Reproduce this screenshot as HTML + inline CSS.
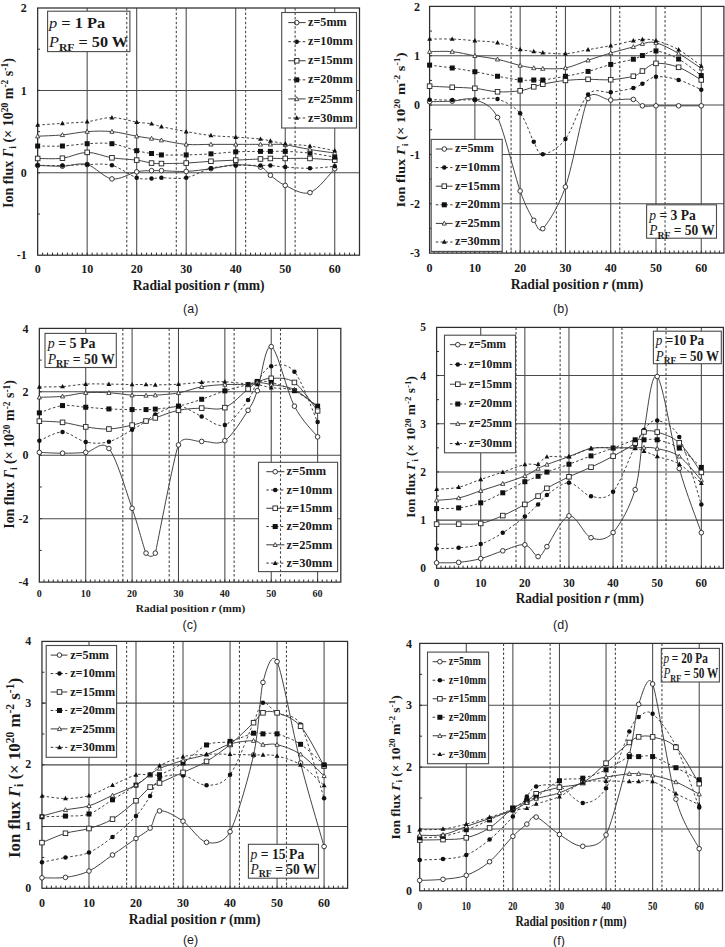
<!DOCTYPE html>
<html><head><meta charset="utf-8"><title>Ion flux figure</title>
<style>html,body{margin:0;padding:0;background:#fff;}svg{display:block;}</style></head><body>
<svg width="725" height="947" viewBox="0 0 725 947" fill="#1a1a1a">
<rect width="725" height="947" fill="#fff"/>
<g>
<path d="M87.17 8V255.2M136.69 8V255.2M186.2 8V255.2M235.72 8V255.2M285.23 8V255.2M334.74 8V255.2M37.66 90.4H359.5M37.66 172.8H359.5" stroke="#4a4a4a" stroke-width="1.05" fill="none"/>
<path d="M42.61 255.2v-2.6M47.56 255.2v-2.6M52.51 255.2v-2.6M57.47 255.2v-2.6M62.42 255.2v-2.6M67.37 255.2v-2.6M72.32 255.2v-2.6M77.27 255.2v-2.6M82.22 255.2v-2.6M87.17 255.2v-2.6M92.13 255.2v-2.6M97.08 255.2v-2.6M102.03 255.2v-2.6M106.98 255.2v-2.6M111.93 255.2v-2.6M116.88 255.2v-2.6M121.83 255.2v-2.6M126.78 255.2v-2.6M131.74 255.2v-2.6M136.69 255.2v-2.6M141.64 255.2v-2.6M146.59 255.2v-2.6M151.54 255.2v-2.6M156.49 255.2v-2.6M161.44 255.2v-2.6M166.4 255.2v-2.6M171.35 255.2v-2.6M176.3 255.2v-2.6M181.25 255.2v-2.6M186.2 255.2v-2.6M191.15 255.2v-2.6M196.1 255.2v-2.6M201.06 255.2v-2.6M206.01 255.2v-2.6M210.96 255.2v-2.6M215.91 255.2v-2.6M220.86 255.2v-2.6M225.81 255.2v-2.6M230.76 255.2v-2.6M235.72 255.2v-2.6M240.67 255.2v-2.6M245.62 255.2v-2.6M250.57 255.2v-2.6M255.52 255.2v-2.6M260.47 255.2v-2.6M265.42 255.2v-2.6M270.38 255.2v-2.6M275.33 255.2v-2.6M280.28 255.2v-2.6M285.23 255.2v-2.6M290.18 255.2v-2.6M295.13 255.2v-2.6M300.08 255.2v-2.6M305.03 255.2v-2.6M309.99 255.2v-2.6M314.94 255.2v-2.6M319.89 255.2v-2.6M324.84 255.2v-2.6M329.79 255.2v-2.6M334.74 255.2v-2.6M339.69 255.2v-2.6M344.65 255.2v-2.6M349.6 255.2v-2.6M354.55 255.2v-2.6M37.66 214h2.4M37.66 172.8h2.4M37.66 131.6h2.4M37.66 90.4h2.4M37.66 49.2h2.4" stroke="#2e2e2e" stroke-width="1" fill="none"/>
<rect x="37.66" y="8" width="321.84" height="247.2" fill="none" stroke="#2e2e2e" stroke-width="1.25"/>
<path d="M37.66 165.38C41.79 165.52 54.16 166.35 62.42 166.21C70.67 166.07 78.92 162.45 87.17 164.56C95.43 166.67 103.68 177.69 111.93 178.9C120.18 180.11 130.09 173.18 136.69 171.81C143.29 170.44 147.42 170.85 151.54 170.66C155.67 170.47 156.49 170.55 161.44 170.66C166.39 170.76 177.95 171.73 186.2 171.4C194.45 171.07 202.71 169.78 210.96 168.68C219.21 167.58 227.46 165.07 235.72 164.81C243.97 164.55 254.7 165.37 260.47 167.11C266.25 168.86 266.25 172.22 270.38 175.27C274.5 178.32 278.63 182.52 285.23 185.41C291.83 188.29 301.73 195.35 309.99 192.58C318.24 189.8 330.62 172.73 334.74 168.76" stroke="#3a3a3a" stroke-width="0.95" fill="none"/>
<circle cx="37.66" cy="165.38" r="2.3" fill="#fff" stroke="#222" stroke-width="0.9"/>
<circle cx="62.42" cy="166.21" r="2.3" fill="#fff" stroke="#222" stroke-width="0.9"/>
<circle cx="87.17" cy="164.56" r="2.3" fill="#fff" stroke="#222" stroke-width="0.9"/>
<circle cx="111.93" cy="178.9" r="2.3" fill="#fff" stroke="#222" stroke-width="0.9"/>
<circle cx="136.69" cy="171.81" r="2.3" fill="#fff" stroke="#222" stroke-width="0.9"/>
<circle cx="151.54" cy="170.66" r="2.3" fill="#fff" stroke="#222" stroke-width="0.9"/>
<circle cx="161.44" cy="170.66" r="2.3" fill="#fff" stroke="#222" stroke-width="0.9"/>
<circle cx="186.2" cy="171.4" r="2.3" fill="#fff" stroke="#222" stroke-width="0.9"/>
<circle cx="210.96" cy="168.68" r="2.3" fill="#fff" stroke="#222" stroke-width="0.9"/>
<circle cx="235.72" cy="164.81" r="2.3" fill="#fff" stroke="#222" stroke-width="0.9"/>
<circle cx="260.47" cy="167.11" r="2.3" fill="#fff" stroke="#222" stroke-width="0.9"/>
<circle cx="270.38" cy="175.27" r="2.3" fill="#fff" stroke="#222" stroke-width="0.9"/>
<circle cx="285.23" cy="185.41" r="2.3" fill="#fff" stroke="#222" stroke-width="0.9"/>
<circle cx="309.99" cy="192.58" r="2.3" fill="#fff" stroke="#222" stroke-width="0.9"/>
<circle cx="334.74" cy="168.76" r="2.3" fill="#fff" stroke="#222" stroke-width="0.9"/>
<path d="M37.66 165.3C41.79 165.34 54.16 165.67 62.42 165.55C70.67 165.43 78.92 164.6 87.17 164.56C95.43 164.52 103.68 163.1 111.93 165.3C120.18 167.5 130.09 175.53 136.69 177.74C143.29 179.96 147.42 178.57 151.54 178.57C155.67 178.57 156.48 177.86 161.44 177.74C166.41 177.63 177.95 179.32 186.2 177.74C194.45 176.16 202.71 170.31 210.96 168.27C219.21 166.22 227.46 165.93 235.72 165.47C243.97 165 255.52 165.47 260.47 165.47C265.42 165.47 266.25 165.19 270.38 165.47C274.5 165.74 278.63 166.65 285.23 167.11C291.83 167.58 301.73 168.39 309.99 168.27C318.24 168.14 330.62 166.69 334.74 166.37" stroke="#3a3a3a" stroke-width="0.95" fill="none" stroke-dasharray="2.6 2.2"/>
<circle cx="37.66" cy="165.3" r="2.25" fill="#111"/>
<circle cx="62.42" cy="165.55" r="2.25" fill="#111"/>
<circle cx="87.17" cy="164.56" r="2.25" fill="#111"/>
<circle cx="111.93" cy="165.3" r="2.25" fill="#111"/>
<circle cx="136.69" cy="177.74" r="2.25" fill="#111"/>
<circle cx="151.54" cy="178.57" r="2.25" fill="#111"/>
<circle cx="161.44" cy="177.74" r="2.25" fill="#111"/>
<circle cx="186.2" cy="177.74" r="2.25" fill="#111"/>
<circle cx="210.96" cy="168.27" r="2.25" fill="#111"/>
<circle cx="235.72" cy="165.47" r="2.25" fill="#111"/>
<circle cx="260.47" cy="165.47" r="2.25" fill="#111"/>
<circle cx="270.38" cy="165.47" r="2.25" fill="#111"/>
<circle cx="285.23" cy="167.11" r="2.25" fill="#111"/>
<circle cx="309.99" cy="168.27" r="2.25" fill="#111"/>
<circle cx="334.74" cy="166.37" r="2.25" fill="#111"/>
<path d="M37.66 158.46C41.79 158.42 54.16 159.23 62.42 158.22C70.67 157.2 78.92 152.43 87.17 152.36C95.43 152.3 103.68 156.51 111.93 157.8C120.18 159.09 130.09 159.23 136.69 160.11C143.29 160.99 147.42 162.5 151.54 163.08C155.67 163.65 156.49 163.57 161.44 163.57C166.4 163.57 177.95 163.46 186.2 163.08C194.45 162.69 202.71 161.76 210.96 161.26C219.21 160.77 227.46 160.49 235.72 160.11C243.97 159.73 255.52 159.19 260.47 158.96C265.42 158.72 266.25 158.54 270.38 158.46C274.5 158.38 278.63 158.46 285.23 158.46C291.83 158.46 301.73 158.19 309.99 158.46C318.24 158.74 330.62 159.84 334.74 160.11" stroke="#3a3a3a" stroke-width="0.95" fill="none"/>
<rect x="35.36" y="156.16" width="4.6" height="4.6" fill="#fff" stroke="#222" stroke-width="0.9"/>
<rect x="60.12" y="155.92" width="4.6" height="4.6" fill="#fff" stroke="#222" stroke-width="0.9"/>
<rect x="84.87" y="150.06" width="4.6" height="4.6" fill="#fff" stroke="#222" stroke-width="0.9"/>
<rect x="109.63" y="155.5" width="4.6" height="4.6" fill="#fff" stroke="#222" stroke-width="0.9"/>
<rect x="134.39" y="157.81" width="4.6" height="4.6" fill="#fff" stroke="#222" stroke-width="0.9"/>
<rect x="149.24" y="160.78" width="4.6" height="4.6" fill="#fff" stroke="#222" stroke-width="0.9"/>
<rect x="159.14" y="161.27" width="4.6" height="4.6" fill="#fff" stroke="#222" stroke-width="0.9"/>
<rect x="183.9" y="160.78" width="4.6" height="4.6" fill="#fff" stroke="#222" stroke-width="0.9"/>
<rect x="208.66" y="158.96" width="4.6" height="4.6" fill="#fff" stroke="#222" stroke-width="0.9"/>
<rect x="233.42" y="157.81" width="4.6" height="4.6" fill="#fff" stroke="#222" stroke-width="0.9"/>
<rect x="258.17" y="156.66" width="4.6" height="4.6" fill="#fff" stroke="#222" stroke-width="0.9"/>
<rect x="268.08" y="156.16" width="4.6" height="4.6" fill="#fff" stroke="#222" stroke-width="0.9"/>
<rect x="282.93" y="156.16" width="4.6" height="4.6" fill="#fff" stroke="#222" stroke-width="0.9"/>
<rect x="307.69" y="156.16" width="4.6" height="4.6" fill="#fff" stroke="#222" stroke-width="0.9"/>
<rect x="332.44" y="157.81" width="4.6" height="4.6" fill="#fff" stroke="#222" stroke-width="0.9"/>
<path d="M37.66 146.02C41.79 146.02 54.16 146.4 62.42 146.02C70.67 145.64 78.92 144.1 87.17 143.71C95.43 143.33 103.68 142.55 111.93 143.71C120.18 144.88 130.09 149.08 136.69 150.72C143.29 152.35 147.42 152.82 151.54 153.52C155.67 154.22 156.45 154.72 161.44 154.92C166.44 155.12 177.95 155.1 186.2 154.92C194.45 154.74 202.71 154.36 210.96 153.85C219.21 153.34 227.46 152.28 235.72 151.87C243.97 151.46 255.52 151.45 260.47 151.38C265.42 151.31 266.25 151.38 270.38 151.38C274.5 151.38 278.63 151.09 285.23 151.38C291.83 151.66 301.73 152.15 309.99 153.11C318.24 154.07 330.62 156.47 334.74 157.14" stroke="#3a3a3a" stroke-width="0.95" fill="none" stroke-dasharray="2.6 2.2"/>
<rect x="35.16" y="143.52" width="5" height="5" fill="#111"/>
<rect x="59.92" y="143.52" width="5" height="5" fill="#111"/>
<rect x="84.67" y="141.21" width="5" height="5" fill="#111"/>
<rect x="109.43" y="141.21" width="5" height="5" fill="#111"/>
<rect x="134.19" y="148.22" width="5" height="5" fill="#111"/>
<rect x="149.04" y="151.02" width="5" height="5" fill="#111"/>
<rect x="158.94" y="152.42" width="5" height="5" fill="#111"/>
<rect x="183.7" y="152.42" width="5" height="5" fill="#111"/>
<rect x="208.46" y="151.35" width="5" height="5" fill="#111"/>
<rect x="233.22" y="149.37" width="5" height="5" fill="#111"/>
<rect x="257.97" y="148.88" width="5" height="5" fill="#111"/>
<rect x="267.88" y="148.88" width="5" height="5" fill="#111"/>
<rect x="282.73" y="148.88" width="5" height="5" fill="#111"/>
<rect x="307.49" y="150.61" width="5" height="5" fill="#111"/>
<rect x="332.24" y="154.64" width="5" height="5" fill="#111"/>
<path d="M37.66 136.21C41.79 135.99 54.16 135.67 62.42 134.9C70.67 134.13 78.92 132.15 87.17 131.6C95.43 131.05 103.68 130.83 111.93 131.6C120.18 132.37 130.09 135.06 136.69 136.21C143.29 137.37 147.42 137.86 151.54 138.52C155.67 139.18 156.5 139.33 161.44 140.17C166.39 141.01 177.95 143.67 186.2 144.37C194.45 145.07 202.71 144.37 210.96 144.37C219.21 144.37 227.46 144.37 235.72 144.37C243.97 144.37 255.52 144.37 260.47 144.37C265.42 144.37 266.25 144.3 270.38 144.37C274.5 144.44 278.63 143.93 285.23 144.78C291.83 145.64 301.73 148.11 309.99 149.48C318.24 150.85 330.62 152.43 334.74 153.02" stroke="#3a3a3a" stroke-width="0.95" fill="none"/>
<path d="M37.66 134.01L39.76 137.89L35.56 137.89Z" fill="#fff" stroke="#222" stroke-width="0.8"/>
<path d="M62.42 132.69L64.52 136.58L60.32 136.58Z" fill="#fff" stroke="#222" stroke-width="0.8"/>
<path d="M87.17 129.39L89.27 133.28L85.07 133.28Z" fill="#fff" stroke="#222" stroke-width="0.8"/>
<path d="M111.93 129.39L114.03 133.28L109.83 133.28Z" fill="#fff" stroke="#222" stroke-width="0.8"/>
<path d="M136.69 134.01L138.79 137.89L134.59 137.89Z" fill="#fff" stroke="#222" stroke-width="0.8"/>
<path d="M151.54 136.32L153.64 140.2L149.44 140.2Z" fill="#fff" stroke="#222" stroke-width="0.8"/>
<path d="M161.44 137.96L163.54 141.85L159.34 141.85Z" fill="#fff" stroke="#222" stroke-width="0.8"/>
<path d="M186.2 142.17L188.3 146.05L184.1 146.05Z" fill="#fff" stroke="#222" stroke-width="0.8"/>
<path d="M210.96 142.17L213.06 146.05L208.86 146.05Z" fill="#fff" stroke="#222" stroke-width="0.8"/>
<path d="M235.72 142.17L237.82 146.05L233.62 146.05Z" fill="#fff" stroke="#222" stroke-width="0.8"/>
<path d="M260.47 142.17L262.57 146.05L258.37 146.05Z" fill="#fff" stroke="#222" stroke-width="0.8"/>
<path d="M270.38 142.17L272.48 146.05L268.28 146.05Z" fill="#fff" stroke="#222" stroke-width="0.8"/>
<path d="M285.23 142.58L287.33 146.46L283.13 146.46Z" fill="#fff" stroke="#222" stroke-width="0.8"/>
<path d="M309.99 147.28L312.09 151.16L307.89 151.16Z" fill="#fff" stroke="#222" stroke-width="0.8"/>
<path d="M334.74 150.82L336.84 154.7L332.64 154.7Z" fill="#fff" stroke="#222" stroke-width="0.8"/>
<path d="M37.66 125.01C41.79 124.73 54.16 123.91 62.42 123.36C70.67 122.81 78.92 122.67 87.17 121.71C95.43 120.75 103.68 117.52 111.93 117.59C120.18 117.66 130.09 121.09 136.69 122.12C143.29 123.15 147.42 123.02 151.54 123.77C155.67 124.53 156.41 125.52 161.44 126.66C166.48 127.79 177.95 130.13 186.2 131.6C194.45 133.07 202.71 134.55 210.96 135.47C219.21 136.39 227.46 136.53 235.72 137.12C243.97 137.71 255.46 138.47 260.47 139.02C265.48 139.56 266.25 140.13 270.38 140.91C274.5 141.69 278.63 142.86 285.23 143.71C291.83 144.56 301.73 144.85 309.99 146.02C318.24 147.19 330.62 149.93 334.74 150.72" stroke="#3a3a3a" stroke-width="0.95" fill="none" stroke-dasharray="2.6 2.2"/>
<path d="M37.66 122.37L40.06 126.81L35.26 126.81Z" fill="#111"/>
<path d="M62.42 120.72L64.82 125.16L60.02 125.16Z" fill="#111"/>
<path d="M87.17 119.07L89.57 123.51L84.77 123.51Z" fill="#111"/>
<path d="M111.93 114.95L114.33 119.39L109.53 119.39Z" fill="#111"/>
<path d="M136.69 119.48L139.09 123.92L134.29 123.92Z" fill="#111"/>
<path d="M151.54 121.13L153.94 125.57L149.14 125.57Z" fill="#111"/>
<path d="M161.44 124.02L163.84 128.46L159.04 128.46Z" fill="#111"/>
<path d="M186.2 128.96L188.6 133.4L183.8 133.4Z" fill="#111"/>
<path d="M210.96 132.83L213.36 137.27L208.56 137.27Z" fill="#111"/>
<path d="M235.72 134.48L238.12 138.92L233.32 138.92Z" fill="#111"/>
<path d="M260.47 136.38L262.87 140.82L258.07 140.82Z" fill="#111"/>
<path d="M270.38 138.27L272.78 142.71L267.98 142.71Z" fill="#111"/>
<path d="M285.23 141.07L287.63 145.51L282.83 145.51Z" fill="#111"/>
<path d="M309.99 143.38L312.39 147.82L307.59 147.82Z" fill="#111"/>
<path d="M334.74 148.08L337.14 152.52L332.34 152.52Z" fill="#111"/>
<rect x="281.7" y="12.5" width="74.8" height="115.5" fill="#fff" stroke="#4a4a4a" stroke-width="1.1"/>
<path d="M288.3 22.6H305.6" stroke="#3a3a3a" stroke-width="1"/>
<circle cx="296.7" cy="22.6" r="2.3" fill="#fff" stroke="#222" stroke-width="0.9"/>
<text x="308" y="26.2" font-family="Liberation Serif" font-weight="bold" font-size="12.96" textLength="38.7" lengthAdjust="spacingAndGlyphs">z=5mm</text>
<path d="M288.3 41.68H305.6" stroke="#3a3a3a" stroke-width="1" stroke-dasharray="2.6 2.2"/>
<circle cx="296.7" cy="41.68" r="2.25" fill="#111"/>
<text x="308" y="45.28" font-family="Liberation Serif" font-weight="bold" font-size="12.96" textLength="44.9" lengthAdjust="spacingAndGlyphs">z=10mm</text>
<path d="M288.3 60.76H305.6" stroke="#3a3a3a" stroke-width="1"/>
<rect x="294.4" y="58.46" width="4.6" height="4.6" fill="#fff" stroke="#222" stroke-width="0.9"/>
<text x="308" y="64.36" font-family="Liberation Serif" font-weight="bold" font-size="12.96" textLength="44.9" lengthAdjust="spacingAndGlyphs">z=15mm</text>
<path d="M288.3 79.84H305.6" stroke="#3a3a3a" stroke-width="1" stroke-dasharray="2.6 2.2"/>
<rect x="294.2" y="77.34" width="5" height="5" fill="#111"/>
<text x="308" y="83.44" font-family="Liberation Serif" font-weight="bold" font-size="12.96" textLength="44.9" lengthAdjust="spacingAndGlyphs">z=20mm</text>
<path d="M288.3 98.92H305.6" stroke="#3a3a3a" stroke-width="1"/>
<path d="M296.7 96.71L298.8 100.6L294.6 100.6Z" fill="#fff" stroke="#222" stroke-width="0.8"/>
<text x="308" y="102.52" font-family="Liberation Serif" font-weight="bold" font-size="12.96" textLength="44.9" lengthAdjust="spacingAndGlyphs">z=25mm</text>
<path d="M288.3 118H305.6" stroke="#3a3a3a" stroke-width="1" stroke-dasharray="2.6 2.2"/>
<path d="M296.7 115.36L299.1 119.8L294.3 119.8Z" fill="#111"/>
<text x="308" y="121.6" font-family="Liberation Serif" font-weight="bold" font-size="12.96" textLength="44.9" lengthAdjust="spacingAndGlyphs">z=30mm</text>
<rect x="47.6" y="11.2" width="82.3" height="40.4" fill="#fff" stroke="#4a4a4a" stroke-width="1.1"/>
<text x="49" y="28.3" font-family="Liberation Serif" font-weight="bold" font-size="15.5" textLength="56.2" lengthAdjust="spacingAndGlyphs"><tspan font-style="italic" font-weight="normal">p</tspan> = 1 Pa</text>
<text x="49" y="46.9" font-family="Liberation Serif" font-weight="bold" font-size="15.5" textLength="79" lengthAdjust="spacingAndGlyphs"><tspan font-style="italic" font-weight="normal">P</tspan><tspan font-size="11.16" dy="3.88">RF</tspan><tspan dy="-3.88"> = 50 W</tspan></text>
<path d="M126.78 8V255.2M176.3 8V255.2M245.62 8V255.2M295.13 8V255.2" stroke="#4a4a4a" stroke-width="1.1" fill="none" stroke-dasharray="2.5 2.05"/>
<text x="26.8" y="12.2" font-family="Liberation Serif" font-weight="bold" font-size="12" text-anchor="end">2</text>
<text x="26.8" y="94.6" font-family="Liberation Serif" font-weight="bold" font-size="12" text-anchor="end">1</text>
<text x="26.8" y="177" font-family="Liberation Serif" font-weight="bold" font-size="12" text-anchor="end">0</text>
<text x="26.8" y="259.4" font-family="Liberation Serif" font-weight="bold" font-size="12" text-anchor="end">-1</text>
<text x="37.66" y="273.1" font-family="Liberation Serif" font-weight="bold" font-size="12" text-anchor="middle">0</text>
<text x="87.17" y="273.1" font-family="Liberation Serif" font-weight="bold" font-size="12" text-anchor="middle">10</text>
<text x="136.69" y="273.1" font-family="Liberation Serif" font-weight="bold" font-size="12" text-anchor="middle">20</text>
<text x="186.2" y="273.1" font-family="Liberation Serif" font-weight="bold" font-size="12" text-anchor="middle">30</text>
<text x="235.72" y="273.1" font-family="Liberation Serif" font-weight="bold" font-size="12" text-anchor="middle">40</text>
<text x="285.23" y="273.1" font-family="Liberation Serif" font-weight="bold" font-size="12" text-anchor="middle">50</text>
<text x="334.74" y="273.1" font-family="Liberation Serif" font-weight="bold" font-size="12" text-anchor="middle">60</text>
<text x="132.8" y="290.3" font-family="Liberation Serif" font-weight="bold" font-size="14" textLength="131.8" lengthAdjust="spacingAndGlyphs">Radial position <tspan font-style="italic">r</tspan> (mm)</text>
<text transform="translate(13.1 133) rotate(-90)" x="-75" y="0" font-family="Liberation Serif" font-weight="bold" font-size="14" textLength="150" lengthAdjust="spacingAndGlyphs">Ion flux <tspan font-style="italic">&#915;</tspan><tspan font-size="9.52" dy="3.08">i</tspan><tspan dy="-3.08"> (&#215; 10</tspan><tspan font-size="9.52" dy="-4.62">20</tspan><tspan dy="4.62"> m</tspan><tspan font-size="9.52" dy="-4.62">-2</tspan><tspan dy="4.62"> s</tspan><tspan font-size="9.52" dy="-4.62">-1</tspan><tspan dy="4.62">)</tspan></text>
<text x="190.7" y="313.3" font-family="Liberation Sans" font-size="12.5" text-anchor="middle">(a)</text>
</g>
<g>
<path d="M474.88 6.4V253.1M520.15 6.4V253.1M565.43 6.4V253.1M610.71 6.4V253.1M655.98 6.4V253.1M701.26 6.4V253.1M429.6 55.74H723.9M429.6 105.08H723.9M429.6 154.42H723.9M429.6 203.76H723.9" stroke="#4a4a4a" stroke-width="1.05" fill="none"/>
<path d="M434.13 253.1v-2.6M438.66 253.1v-2.6M443.18 253.1v-2.6M447.71 253.1v-2.6M452.24 253.1v-2.6M456.77 253.1v-2.6M461.29 253.1v-2.6M465.82 253.1v-2.6M470.35 253.1v-2.6M474.88 253.1v-2.6M479.4 253.1v-2.6M483.93 253.1v-2.6M488.46 253.1v-2.6M492.99 253.1v-2.6M497.52 253.1v-2.6M502.04 253.1v-2.6M506.57 253.1v-2.6M511.1 253.1v-2.6M515.63 253.1v-2.6M520.15 253.1v-2.6M524.68 253.1v-2.6M529.21 253.1v-2.6M533.74 253.1v-2.6M538.26 253.1v-2.6M542.79 253.1v-2.6M547.32 253.1v-2.6M551.85 253.1v-2.6M556.38 253.1v-2.6M560.9 253.1v-2.6M565.43 253.1v-2.6M569.96 253.1v-2.6M574.49 253.1v-2.6M579.01 253.1v-2.6M583.54 253.1v-2.6M588.07 253.1v-2.6M592.6 253.1v-2.6M597.12 253.1v-2.6M601.65 253.1v-2.6M606.18 253.1v-2.6M610.71 253.1v-2.6M615.24 253.1v-2.6M619.76 253.1v-2.6M624.29 253.1v-2.6M628.82 253.1v-2.6M633.35 253.1v-2.6M637.87 253.1v-2.6M642.4 253.1v-2.6M646.93 253.1v-2.6M651.46 253.1v-2.6M655.98 253.1v-2.6M660.51 253.1v-2.6M665.04 253.1v-2.6M669.57 253.1v-2.6M674.1 253.1v-2.6M678.62 253.1v-2.6M683.15 253.1v-2.6M687.68 253.1v-2.6M692.21 253.1v-2.6M696.73 253.1v-2.6M701.26 253.1v-2.6M705.79 253.1v-2.6M710.32 253.1v-2.6M714.84 253.1v-2.6M719.37 253.1v-2.6M429.6 228.43h2.4M429.6 203.76h2.4M429.6 179.09h2.4M429.6 154.42h2.4M429.6 129.75h2.4M429.6 105.08h2.4M429.6 80.41h2.4M429.6 55.74h2.4M429.6 31.07h2.4" stroke="#2e2e2e" stroke-width="1" fill="none"/>
<rect x="429.6" y="6.4" width="294.3" height="246.7" fill="none" stroke="#2e2e2e" stroke-width="1.25"/>
<path d="M429.6 101.72C433.37 101.63 444.69 101.48 452.24 101.13C459.78 100.79 467.33 96.94 474.88 99.65C482.42 102.37 491.12 104.52 497.52 117.41C503.91 130.31 514.79 175.75 520.15 190.98C525.52 206.22 530.56 215 533.74 220.29C536.91 225.58 538.54 233.15 542.79 228.68C547.04 224.2 557.88 208.57 565.43 186.89C572.98 165.2 582.83 108.63 588.07 98.57C593.31 88.51 603.16 99.86 610.71 100C618.25 100.14 628.06 98.44 633.35 99.41C638.63 100.38 638.63 104.75 642.4 105.82C646.17 106.89 649.95 105.82 655.98 105.82C662.02 105.82 671.08 105.82 678.62 105.82C686.17 105.82 697.49 105.82 701.26 105.82" stroke="#3a3a3a" stroke-width="0.95" fill="none"/>
<circle cx="429.6" cy="101.72" r="2.3" fill="#fff" stroke="#222" stroke-width="0.9"/>
<circle cx="452.24" cy="101.13" r="2.3" fill="#fff" stroke="#222" stroke-width="0.9"/>
<circle cx="474.88" cy="99.65" r="2.3" fill="#fff" stroke="#222" stroke-width="0.9"/>
<circle cx="497.52" cy="117.41" r="2.3" fill="#fff" stroke="#222" stroke-width="0.9"/>
<circle cx="520.15" cy="190.98" r="2.3" fill="#fff" stroke="#222" stroke-width="0.9"/>
<circle cx="533.74" cy="220.29" r="2.3" fill="#fff" stroke="#222" stroke-width="0.9"/>
<circle cx="542.79" cy="228.68" r="2.3" fill="#fff" stroke="#222" stroke-width="0.9"/>
<circle cx="565.43" cy="186.89" r="2.3" fill="#fff" stroke="#222" stroke-width="0.9"/>
<circle cx="588.07" cy="98.57" r="2.3" fill="#fff" stroke="#222" stroke-width="0.9"/>
<circle cx="610.71" cy="100" r="2.3" fill="#fff" stroke="#222" stroke-width="0.9"/>
<circle cx="633.35" cy="99.41" r="2.3" fill="#fff" stroke="#222" stroke-width="0.9"/>
<circle cx="642.4" cy="105.82" r="2.3" fill="#fff" stroke="#222" stroke-width="0.9"/>
<circle cx="655.98" cy="105.82" r="2.3" fill="#fff" stroke="#222" stroke-width="0.9"/>
<circle cx="678.62" cy="105.82" r="2.3" fill="#fff" stroke="#222" stroke-width="0.9"/>
<circle cx="701.26" cy="105.82" r="2.3" fill="#fff" stroke="#222" stroke-width="0.9"/>
<path d="M429.6 99.65C433.37 99.72 444.69 100.05 452.24 100.05C459.78 100.05 467.33 99.82 474.88 99.65C482.42 99.49 489.97 96.77 497.52 99.06C505.06 101.35 514.12 106.26 520.15 113.37C526.19 120.47 529.98 134.91 533.74 141.69C537.49 148.47 537.51 154.7 542.79 154.27C548.07 153.84 557.88 149.1 565.43 139.12C572.98 129.15 580.52 102.22 588.07 94.42C595.62 86.63 603.16 93.42 610.71 92.35C618.25 91.28 628.54 89.3 633.35 88.01C638.16 86.72 638.63 85.73 642.4 83.86C646.17 82 649.95 77.47 655.98 76.81C662.02 76.15 671.08 77.78 678.62 79.92C686.17 82.05 697.49 88.02 701.26 89.64" stroke="#3a3a3a" stroke-width="0.95" fill="none" stroke-dasharray="2.6 2.2"/>
<circle cx="429.6" cy="99.65" r="2.25" fill="#111"/>
<circle cx="452.24" cy="100.05" r="2.25" fill="#111"/>
<circle cx="474.88" cy="99.65" r="2.25" fill="#111"/>
<circle cx="497.52" cy="99.06" r="2.25" fill="#111"/>
<circle cx="520.15" cy="113.37" r="2.25" fill="#111"/>
<circle cx="533.74" cy="141.69" r="2.25" fill="#111"/>
<circle cx="542.79" cy="154.27" r="2.25" fill="#111"/>
<circle cx="565.43" cy="139.12" r="2.25" fill="#111"/>
<circle cx="588.07" cy="94.42" r="2.25" fill="#111"/>
<circle cx="610.71" cy="92.35" r="2.25" fill="#111"/>
<circle cx="633.35" cy="88.01" r="2.25" fill="#111"/>
<circle cx="642.4" cy="83.86" r="2.25" fill="#111"/>
<circle cx="655.98" cy="76.81" r="2.25" fill="#111"/>
<circle cx="678.62" cy="79.92" r="2.25" fill="#111"/>
<circle cx="701.26" cy="89.64" r="2.25" fill="#111"/>
<path d="M429.6 86.18C433.37 86.36 444.69 86.91 452.24 87.27C459.78 87.62 467.33 87.55 474.88 88.3C482.42 89.06 489.97 91.4 497.52 91.81C505.06 92.22 514.12 91.6 520.15 90.77C526.19 89.94 529.96 87.93 533.74 86.82C537.51 85.72 538.17 85.1 542.79 84.16C547.42 83.22 557.88 81.22 565.43 80.41C572.98 79.6 580.52 79.44 588.07 79.32C595.62 79.21 603.16 80.24 610.71 79.72C618.25 79.2 628.32 77.59 633.35 76.22C638.38 74.84 638.63 73.17 642.4 71.04C646.17 68.9 649.95 64.01 655.98 63.39C662.02 62.76 671.08 64.53 678.62 67.29C686.17 70.04 697.49 77.81 701.26 79.92" stroke="#3a3a3a" stroke-width="0.95" fill="none"/>
<rect x="427.3" y="83.88" width="4.6" height="4.6" fill="#fff" stroke="#222" stroke-width="0.9"/>
<rect x="449.94" y="84.97" width="4.6" height="4.6" fill="#fff" stroke="#222" stroke-width="0.9"/>
<rect x="472.58" y="86" width="4.6" height="4.6" fill="#fff" stroke="#222" stroke-width="0.9"/>
<rect x="495.22" y="89.51" width="4.6" height="4.6" fill="#fff" stroke="#222" stroke-width="0.9"/>
<rect x="517.85" y="88.47" width="4.6" height="4.6" fill="#fff" stroke="#222" stroke-width="0.9"/>
<rect x="531.44" y="84.52" width="4.6" height="4.6" fill="#fff" stroke="#222" stroke-width="0.9"/>
<rect x="540.49" y="81.86" width="4.6" height="4.6" fill="#fff" stroke="#222" stroke-width="0.9"/>
<rect x="563.13" y="78.11" width="4.6" height="4.6" fill="#fff" stroke="#222" stroke-width="0.9"/>
<rect x="585.77" y="77.02" width="4.6" height="4.6" fill="#fff" stroke="#222" stroke-width="0.9"/>
<rect x="608.41" y="77.42" width="4.6" height="4.6" fill="#fff" stroke="#222" stroke-width="0.9"/>
<rect x="631.05" y="73.92" width="4.6" height="4.6" fill="#fff" stroke="#222" stroke-width="0.9"/>
<rect x="640.1" y="68.74" width="4.6" height="4.6" fill="#fff" stroke="#222" stroke-width="0.9"/>
<rect x="653.68" y="61.09" width="4.6" height="4.6" fill="#fff" stroke="#222" stroke-width="0.9"/>
<rect x="676.32" y="64.99" width="4.6" height="4.6" fill="#fff" stroke="#222" stroke-width="0.9"/>
<rect x="698.96" y="77.62" width="4.6" height="4.6" fill="#fff" stroke="#222" stroke-width="0.9"/>
<path d="M429.6 65.11C433.37 65.59 444.69 66.87 452.24 67.98C459.78 69.08 467.33 70.34 474.88 71.73C482.42 73.11 489.97 74.88 497.52 76.27C505.06 77.65 514.12 79.39 520.15 80.02C526.19 80.64 529.96 80.02 533.74 80.02C537.51 80.02 538.3 80.55 542.79 80.02C547.29 79.48 557.88 77.7 565.43 76.27C572.98 74.83 580.52 73.4 588.07 71.43C595.62 69.46 603.16 66.46 610.71 64.42C618.25 62.39 628.64 60.56 633.35 59.24C638.06 57.92 638.63 56.92 642.4 55.54C646.17 54.16 649.95 50.37 655.98 50.95C662.02 51.54 671.08 54.94 678.62 59.05C686.17 63.15 697.49 72.82 701.26 75.57" stroke="#3a3a3a" stroke-width="0.95" fill="none" stroke-dasharray="2.6 2.2"/>
<rect x="427.1" y="62.61" width="5" height="5" fill="#111"/>
<rect x="449.74" y="65.48" width="5" height="5" fill="#111"/>
<rect x="472.38" y="69.23" width="5" height="5" fill="#111"/>
<rect x="495.02" y="73.77" width="5" height="5" fill="#111"/>
<rect x="517.65" y="77.52" width="5" height="5" fill="#111"/>
<rect x="531.24" y="77.52" width="5" height="5" fill="#111"/>
<rect x="540.29" y="77.52" width="5" height="5" fill="#111"/>
<rect x="562.93" y="73.77" width="5" height="5" fill="#111"/>
<rect x="585.57" y="68.93" width="5" height="5" fill="#111"/>
<rect x="608.21" y="61.92" width="5" height="5" fill="#111"/>
<rect x="630.85" y="56.74" width="5" height="5" fill="#111"/>
<rect x="639.9" y="53.04" width="5" height="5" fill="#111"/>
<rect x="653.48" y="48.45" width="5" height="5" fill="#111"/>
<rect x="676.12" y="56.55" width="5" height="5" fill="#111"/>
<rect x="698.76" y="73.07" width="5" height="5" fill="#111"/>
<path d="M429.6 51.64C433.37 51.64 444.69 50.95 452.24 51.64C459.78 52.34 467.33 54.51 474.88 55.79C482.42 57.06 489.97 57.67 497.52 59.29C505.06 60.91 514.12 64.06 520.15 65.51C526.19 66.96 529.96 67.46 533.74 67.98C537.51 68.49 538.25 68.62 542.79 68.62C547.33 68.62 557.88 69.37 565.43 67.98C572.98 66.59 580.52 62.77 588.07 60.28C595.62 57.79 603.16 55.26 610.71 53.03C618.25 50.79 628.75 48.2 633.35 46.86C637.94 45.51 638.63 44.44 642.4 43.75C646.17 43.06 649.95 41.09 655.98 42.71C662.02 44.33 671.08 49.19 678.62 53.47C686.17 57.75 697.49 65.89 701.26 68.37" stroke="#3a3a3a" stroke-width="0.95" fill="none"/>
<path d="M429.6 49.44L431.7 53.32L427.5 53.32Z" fill="#fff" stroke="#222" stroke-width="0.8"/>
<path d="M452.24 49.44L454.34 53.32L450.14 53.32Z" fill="#fff" stroke="#222" stroke-width="0.8"/>
<path d="M474.88 53.58L476.98 57.47L472.78 57.47Z" fill="#fff" stroke="#222" stroke-width="0.8"/>
<path d="M497.52 57.09L499.62 60.97L495.42 60.97Z" fill="#fff" stroke="#222" stroke-width="0.8"/>
<path d="M520.15 63.3L522.25 67.19L518.05 67.19Z" fill="#fff" stroke="#222" stroke-width="0.8"/>
<path d="M533.74 65.77L535.84 69.66L531.64 69.66Z" fill="#fff" stroke="#222" stroke-width="0.8"/>
<path d="M542.79 66.41L544.89 70.3L540.69 70.3Z" fill="#fff" stroke="#222" stroke-width="0.8"/>
<path d="M565.43 65.77L567.53 69.66L563.33 69.66Z" fill="#fff" stroke="#222" stroke-width="0.8"/>
<path d="M588.07 58.07L590.17 61.96L585.97 61.96Z" fill="#fff" stroke="#222" stroke-width="0.8"/>
<path d="M610.71 50.82L612.81 54.71L608.61 54.71Z" fill="#fff" stroke="#222" stroke-width="0.8"/>
<path d="M633.35 44.65L635.45 48.54L631.25 48.54Z" fill="#fff" stroke="#222" stroke-width="0.8"/>
<path d="M642.4 41.55L644.5 45.43L640.3 45.43Z" fill="#fff" stroke="#222" stroke-width="0.8"/>
<path d="M655.98 40.51L658.08 44.39L653.88 44.39Z" fill="#fff" stroke="#222" stroke-width="0.8"/>
<path d="M678.62 51.27L680.72 55.15L676.52 55.15Z" fill="#fff" stroke="#222" stroke-width="0.8"/>
<path d="M701.26 66.17L703.36 70.05L699.16 70.05Z" fill="#fff" stroke="#222" stroke-width="0.8"/>
<path d="M429.6 39.06C433.37 39.06 444.69 38.79 452.24 39.06C459.78 39.33 467.33 40.07 474.88 40.69C482.42 41.31 489.97 41.32 497.52 42.76C505.06 44.21 514.12 47.93 520.15 49.38C526.19 50.82 529.96 50.9 533.74 51.45C537.51 52 538.23 52.35 542.79 52.68C547.35 53.01 557.88 54.21 565.43 53.72C572.98 53.22 580.52 51.08 588.07 49.72C595.62 48.36 603.16 47.09 610.71 45.58C618.25 44.06 628.86 41.52 633.35 40.64C637.83 39.76 638.63 39.36 642.4 39.36C646.17 39.36 649.95 38.92 655.98 40.64C662.02 42.37 671.08 45.52 678.62 49.72C686.17 53.92 697.49 63.17 701.26 65.85" stroke="#3a3a3a" stroke-width="0.95" fill="none" stroke-dasharray="2.6 2.2"/>
<path d="M429.6 36.42L432 40.86L427.2 40.86Z" fill="#111"/>
<path d="M452.24 36.42L454.64 40.86L449.84 40.86Z" fill="#111"/>
<path d="M474.88 38.05L477.28 42.49L472.48 42.49Z" fill="#111"/>
<path d="M497.52 40.12L499.92 44.56L495.12 44.56Z" fill="#111"/>
<path d="M520.15 46.74L522.55 51.18L517.75 51.18Z" fill="#111"/>
<path d="M533.74 48.81L536.14 53.25L531.34 53.25Z" fill="#111"/>
<path d="M542.79 50.04L545.19 54.48L540.39 54.48Z" fill="#111"/>
<path d="M565.43 51.08L567.83 55.52L563.03 55.52Z" fill="#111"/>
<path d="M588.07 47.08L590.47 51.52L585.67 51.52Z" fill="#111"/>
<path d="M610.71 42.94L613.11 47.38L608.31 47.38Z" fill="#111"/>
<path d="M633.35 38L635.75 42.44L630.95 42.44Z" fill="#111"/>
<path d="M642.4 36.72L644.8 41.16L640 41.16Z" fill="#111"/>
<path d="M655.98 38L658.38 42.44L653.58 42.44Z" fill="#111"/>
<path d="M678.62 47.08L681.02 51.52L676.22 51.52Z" fill="#111"/>
<path d="M701.26 63.21L703.66 67.65L698.86 67.65Z" fill="#111"/>
<rect x="431.2" y="139.4" width="71" height="112" fill="#fff" stroke="#4a4a4a" stroke-width="1.1"/>
<path d="M435.8 149H452.6" stroke="#3a3a3a" stroke-width="1"/>
<circle cx="444.3" cy="149" r="2.3" fill="#fff" stroke="#222" stroke-width="0.9"/>
<text x="455" y="152.45" font-family="Liberation Serif" font-weight="bold" font-size="12.42" textLength="38.96" lengthAdjust="spacingAndGlyphs">z=5mm</text>
<path d="M435.8 167.6H452.6" stroke="#3a3a3a" stroke-width="1" stroke-dasharray="2.6 2.2"/>
<circle cx="444.3" cy="167.6" r="2.25" fill="#111"/>
<text x="455" y="171.05" font-family="Liberation Serif" font-weight="bold" font-size="12.42" textLength="45.2" lengthAdjust="spacingAndGlyphs">z=10mm</text>
<path d="M435.8 186.2H452.6" stroke="#3a3a3a" stroke-width="1"/>
<rect x="442" y="183.9" width="4.6" height="4.6" fill="#fff" stroke="#222" stroke-width="0.9"/>
<text x="455" y="189.65" font-family="Liberation Serif" font-weight="bold" font-size="12.42" textLength="45.2" lengthAdjust="spacingAndGlyphs">z=15mm</text>
<path d="M435.8 204.8H452.6" stroke="#3a3a3a" stroke-width="1" stroke-dasharray="2.6 2.2"/>
<rect x="441.8" y="202.3" width="5" height="5" fill="#111"/>
<text x="455" y="208.25" font-family="Liberation Serif" font-weight="bold" font-size="12.42" textLength="45.2" lengthAdjust="spacingAndGlyphs">z=20mm</text>
<path d="M435.8 223.4H452.6" stroke="#3a3a3a" stroke-width="1"/>
<path d="M444.3 221.19L446.4 225.08L442.2 225.08Z" fill="#fff" stroke="#222" stroke-width="0.8"/>
<text x="455" y="226.85" font-family="Liberation Serif" font-weight="bold" font-size="12.42" textLength="45.2" lengthAdjust="spacingAndGlyphs">z=25mm</text>
<path d="M435.8 242H452.6" stroke="#3a3a3a" stroke-width="1" stroke-dasharray="2.6 2.2"/>
<path d="M444.3 239.36L446.7 243.8L441.9 243.8Z" fill="#111"/>
<text x="455" y="245.45" font-family="Liberation Serif" font-weight="bold" font-size="12.42" textLength="45.2" lengthAdjust="spacingAndGlyphs">z=30mm</text>
<rect x="646.6" y="204.8" width="69.9" height="33.4" fill="#fff" stroke="#4a4a4a" stroke-width="1.1"/>
<text x="649.2" y="220" font-family="Liberation Serif" font-weight="bold" font-size="14" textLength="46.6" lengthAdjust="spacingAndGlyphs"><tspan font-style="italic" font-weight="normal">p</tspan> = 3 Pa</text>
<text x="649.2" y="235.1" font-family="Liberation Serif" font-weight="bold" font-size="14" textLength="65.6" lengthAdjust="spacingAndGlyphs"><tspan font-style="italic" font-weight="normal">P</tspan><tspan font-size="10.08" dy="3.5">RF</tspan><tspan dy="-3.5"> = 50 W</tspan></text>
<path d="M511.1 6.4V253.1M556.38 6.4V253.1M619.76 6.4V253.1M665.04 6.4V253.1" stroke="#4a4a4a" stroke-width="1.1" fill="none" stroke-dasharray="2.5 2.05"/>
<text x="420" y="10.6" font-family="Liberation Serif" font-weight="bold" font-size="12" text-anchor="end">2</text>
<text x="420" y="59.94" font-family="Liberation Serif" font-weight="bold" font-size="12" text-anchor="end">1</text>
<text x="420" y="109.28" font-family="Liberation Serif" font-weight="bold" font-size="12" text-anchor="end">0</text>
<text x="420" y="158.62" font-family="Liberation Serif" font-weight="bold" font-size="12" text-anchor="end">-1</text>
<text x="420" y="207.96" font-family="Liberation Serif" font-weight="bold" font-size="12" text-anchor="end">-2</text>
<text x="420" y="257.3" font-family="Liberation Serif" font-weight="bold" font-size="12" text-anchor="end">-3</text>
<text x="429.6" y="272" font-family="Liberation Serif" font-weight="bold" font-size="12" text-anchor="middle">0</text>
<text x="474.88" y="272" font-family="Liberation Serif" font-weight="bold" font-size="12" text-anchor="middle">10</text>
<text x="520.15" y="272" font-family="Liberation Serif" font-weight="bold" font-size="12" text-anchor="middle">20</text>
<text x="565.43" y="272" font-family="Liberation Serif" font-weight="bold" font-size="12" text-anchor="middle">30</text>
<text x="610.71" y="272" font-family="Liberation Serif" font-weight="bold" font-size="12" text-anchor="middle">40</text>
<text x="655.98" y="272" font-family="Liberation Serif" font-weight="bold" font-size="12" text-anchor="middle">50</text>
<text x="701.26" y="272" font-family="Liberation Serif" font-weight="bold" font-size="12" text-anchor="middle">60</text>
<text x="510.65" y="288.5" font-family="Liberation Serif" font-weight="bold" font-size="14" textLength="132.7" lengthAdjust="spacingAndGlyphs">Radial position <tspan font-style="italic">r</tspan> (mm)</text>
<text transform="translate(404.8 130) rotate(-90)" x="-77.6" y="0" font-family="Liberation Serif" font-weight="bold" font-size="13.5" textLength="155.2" lengthAdjust="spacingAndGlyphs">Ion flux <tspan font-style="italic">&#915;</tspan><tspan font-size="9.18" dy="2.97">i</tspan><tspan dy="-2.97"> (&#215; 10</tspan><tspan font-size="9.18" dy="-4.46">20</tspan><tspan dy="4.46"> m</tspan><tspan font-size="9.18" dy="-4.46">-2</tspan><tspan dy="4.46"> s</tspan><tspan font-size="9.18" dy="-4.46">-1</tspan><tspan dy="4.46">)</tspan></text>
<text x="560.7" y="313.3" font-family="Liberation Sans" font-size="12.5" text-anchor="middle">(b)</text>
</g>
<g>
<path d="M85.73 328.4V582.1M132.1 328.4V582.1M178.48 328.4V582.1M224.86 328.4V582.1M271.23 328.4V582.1M317.61 328.4V582.1M39.35 391.82H340.8M39.35 455.25H340.8M39.35 518.67H340.8" stroke="#4a4a4a" stroke-width="1.05" fill="none"/>
<path d="M43.99 582.1v-2.6M48.63 582.1v-2.6M53.26 582.1v-2.6M57.9 582.1v-2.6M62.54 582.1v-2.6M67.18 582.1v-2.6M71.81 582.1v-2.6M76.45 582.1v-2.6M81.09 582.1v-2.6M85.73 582.1v-2.6M90.36 582.1v-2.6M95 582.1v-2.6M99.64 582.1v-2.6M104.28 582.1v-2.6M108.92 582.1v-2.6M113.55 582.1v-2.6M118.19 582.1v-2.6M122.83 582.1v-2.6M127.47 582.1v-2.6M132.1 582.1v-2.6M136.74 582.1v-2.6M141.38 582.1v-2.6M146.02 582.1v-2.6M150.65 582.1v-2.6M155.29 582.1v-2.6M159.93 582.1v-2.6M164.57 582.1v-2.6M169.21 582.1v-2.6M173.84 582.1v-2.6M178.48 582.1v-2.6M183.12 582.1v-2.6M187.76 582.1v-2.6M192.39 582.1v-2.6M197.03 582.1v-2.6M201.67 582.1v-2.6M206.31 582.1v-2.6M210.94 582.1v-2.6M215.58 582.1v-2.6M220.22 582.1v-2.6M224.86 582.1v-2.6M229.5 582.1v-2.6M234.13 582.1v-2.6M238.77 582.1v-2.6M243.41 582.1v-2.6M248.05 582.1v-2.6M252.68 582.1v-2.6M257.32 582.1v-2.6M261.96 582.1v-2.6M266.6 582.1v-2.6M271.23 582.1v-2.6M275.87 582.1v-2.6M280.51 582.1v-2.6M285.15 582.1v-2.6M289.79 582.1v-2.6M294.42 582.1v-2.6M299.06 582.1v-2.6M303.7 582.1v-2.6M308.34 582.1v-2.6M312.97 582.1v-2.6M317.61 582.1v-2.6M322.25 582.1v-2.6M326.89 582.1v-2.6M331.52 582.1v-2.6M336.16 582.1v-2.6M39.35 550.39h2.4M39.35 518.67h2.4M39.35 486.96h2.4M39.35 455.25h2.4M39.35 423.54h2.4M39.35 391.82h2.4M39.35 360.11h2.4" stroke="#2e2e2e" stroke-width="1" fill="none"/>
<rect x="39.35" y="328.4" width="301.45" height="253.7" fill="none" stroke="#2e2e2e" stroke-width="1.25"/>
<path d="M39.35 452.36C43.21 452.51 54.81 453.22 62.54 453.22C70.27 453.22 78 453.15 85.73 452.36C93.46 451.58 101.41 439.45 108.92 448.5C116.42 457.54 125.92 490.87 132.1 508.31C138.29 525.74 143.89 549 146.02 553.11C148.15 557.23 153.96 557.56 155.29 553.11C156.63 548.67 173.98 455.74 178.48 444.91C182.98 434.08 193.94 442.13 201.67 441.42C209.4 440.72 217.13 445.88 224.86 440.69C232.59 435.51 242.64 418.64 248.05 410.31C253.46 401.98 253.61 400.9 257.32 390.72C261.03 380.53 265.05 344.06 271.23 346.63C277.42 349.21 286.69 391.15 294.42 406.19C302.15 421.23 313.75 431.75 317.61 436.86" stroke="#3a3a3a" stroke-width="0.95" fill="none"/>
<circle cx="39.35" cy="452.36" r="2.3" fill="#fff" stroke="#222" stroke-width="0.9"/>
<circle cx="62.54" cy="453.22" r="2.3" fill="#fff" stroke="#222" stroke-width="0.9"/>
<circle cx="85.73" cy="452.36" r="2.3" fill="#fff" stroke="#222" stroke-width="0.9"/>
<circle cx="108.92" cy="448.5" r="2.3" fill="#fff" stroke="#222" stroke-width="0.9"/>
<circle cx="132.1" cy="508.31" r="2.3" fill="#fff" stroke="#222" stroke-width="0.9"/>
<circle cx="146.02" cy="553.11" r="2.3" fill="#fff" stroke="#222" stroke-width="0.9"/>
<circle cx="155.29" cy="553.11" r="2.3" fill="#fff" stroke="#222" stroke-width="0.9"/>
<circle cx="178.48" cy="444.91" r="2.3" fill="#fff" stroke="#222" stroke-width="0.9"/>
<circle cx="201.67" cy="441.42" r="2.3" fill="#fff" stroke="#222" stroke-width="0.9"/>
<circle cx="224.86" cy="440.69" r="2.3" fill="#fff" stroke="#222" stroke-width="0.9"/>
<circle cx="248.05" cy="410.31" r="2.3" fill="#fff" stroke="#222" stroke-width="0.9"/>
<circle cx="257.32" cy="390.72" r="2.3" fill="#fff" stroke="#222" stroke-width="0.9"/>
<circle cx="271.23" cy="346.63" r="2.3" fill="#fff" stroke="#222" stroke-width="0.9"/>
<circle cx="294.42" cy="406.19" r="2.3" fill="#fff" stroke="#222" stroke-width="0.9"/>
<circle cx="317.61" cy="436.86" r="2.3" fill="#fff" stroke="#222" stroke-width="0.9"/>
<path d="M39.35 440.76C43.21 439.31 54.81 431.86 62.54 432.07C70.27 432.27 78 440.39 85.73 441.99C93.46 443.6 101.19 443.74 108.92 441.71C116.64 439.68 125.92 433.22 132.1 429.82C138.29 426.42 142.15 423.85 146.02 421.32C149.88 418.78 150.11 417.03 155.29 414.59C160.48 412.16 170.75 405.79 178.48 406.1C186.21 406.4 193.94 413.23 201.67 416.4C209.4 419.57 217.13 427.86 224.86 425.12C232.59 422.39 242.64 407.19 248.05 400.01C253.46 392.82 253.46 387.61 257.32 381.99C261.19 376.38 265.05 368.01 271.23 366.3C277.42 364.58 286.82 362.53 294.42 371.69C302.03 380.84 313.75 413.71 317.61 422.11" stroke="#3a3a3a" stroke-width="0.95" fill="none" stroke-dasharray="2.6 2.2"/>
<circle cx="39.35" cy="440.76" r="2.25" fill="#111"/>
<circle cx="62.54" cy="432.07" r="2.25" fill="#111"/>
<circle cx="85.73" cy="441.99" r="2.25" fill="#111"/>
<circle cx="108.92" cy="441.71" r="2.25" fill="#111"/>
<circle cx="132.1" cy="429.82" r="2.25" fill="#111"/>
<circle cx="146.02" cy="421.32" r="2.25" fill="#111"/>
<circle cx="155.29" cy="414.59" r="2.25" fill="#111"/>
<circle cx="178.48" cy="406.1" r="2.25" fill="#111"/>
<circle cx="201.67" cy="416.4" r="2.25" fill="#111"/>
<circle cx="224.86" cy="425.12" r="2.25" fill="#111"/>
<circle cx="248.05" cy="400.01" r="2.25" fill="#111"/>
<circle cx="257.32" cy="381.99" r="2.25" fill="#111"/>
<circle cx="271.23" cy="366.3" r="2.25" fill="#111"/>
<circle cx="294.42" cy="371.69" r="2.25" fill="#111"/>
<circle cx="317.61" cy="422.11" r="2.25" fill="#111"/>
<path d="M39.35 421.1C43.21 421.31 54.81 421.4 62.54 422.36C70.27 423.33 78 425.79 85.73 426.9C93.46 428.01 101.19 429.32 108.92 429.02C116.64 428.73 125.92 426.46 132.1 425.12C138.29 423.79 142.15 422.21 146.02 421C149.88 419.8 150.65 419.42 155.29 417.89C159.94 416.36 170.75 411.95 178.48 410.31C186.21 408.68 193.94 408.54 201.67 408.09C209.4 407.64 217.13 410.8 224.86 407.62C232.59 404.43 243.56 392.45 248.05 388.97C252.53 385.49 253.46 384.21 257.32 382.44C261.19 380.66 265.05 378.32 271.23 378.32C277.42 378.32 286.69 377.02 294.42 382.44C302.15 387.86 313.75 406.12 317.61 410.85" stroke="#3a3a3a" stroke-width="0.95" fill="none"/>
<rect x="37.05" y="418.8" width="4.6" height="4.6" fill="#fff" stroke="#222" stroke-width="0.9"/>
<rect x="60.24" y="420.06" width="4.6" height="4.6" fill="#fff" stroke="#222" stroke-width="0.9"/>
<rect x="83.43" y="424.6" width="4.6" height="4.6" fill="#fff" stroke="#222" stroke-width="0.9"/>
<rect x="106.62" y="426.72" width="4.6" height="4.6" fill="#fff" stroke="#222" stroke-width="0.9"/>
<rect x="129.8" y="422.82" width="4.6" height="4.6" fill="#fff" stroke="#222" stroke-width="0.9"/>
<rect x="143.72" y="418.7" width="4.6" height="4.6" fill="#fff" stroke="#222" stroke-width="0.9"/>
<rect x="152.99" y="415.59" width="4.6" height="4.6" fill="#fff" stroke="#222" stroke-width="0.9"/>
<rect x="176.18" y="408.01" width="4.6" height="4.6" fill="#fff" stroke="#222" stroke-width="0.9"/>
<rect x="199.37" y="405.79" width="4.6" height="4.6" fill="#fff" stroke="#222" stroke-width="0.9"/>
<rect x="222.56" y="405.32" width="4.6" height="4.6" fill="#fff" stroke="#222" stroke-width="0.9"/>
<rect x="245.75" y="386.67" width="4.6" height="4.6" fill="#fff" stroke="#222" stroke-width="0.9"/>
<rect x="255.02" y="380.14" width="4.6" height="4.6" fill="#fff" stroke="#222" stroke-width="0.9"/>
<rect x="268.93" y="376.02" width="4.6" height="4.6" fill="#fff" stroke="#222" stroke-width="0.9"/>
<rect x="292.12" y="380.14" width="4.6" height="4.6" fill="#fff" stroke="#222" stroke-width="0.9"/>
<rect x="315.31" y="408.55" width="4.6" height="4.6" fill="#fff" stroke="#222" stroke-width="0.9"/>
<path d="M39.35 412.85C43.21 411.64 54.81 406.52 62.54 405.59C70.27 404.65 78 406.68 85.73 407.24C93.46 407.79 101.19 408.53 108.92 408.92C116.64 409.31 125.92 409.47 132.1 409.58C138.29 409.69 142.15 409.66 146.02 409.58C149.88 409.5 150.68 409.6 155.29 409.11C159.91 408.61 170.75 407.73 178.48 406.1C186.21 404.46 193.94 401.81 201.67 399.28C209.4 396.74 217.13 393.33 224.86 390.87C232.59 388.42 243.35 385.9 248.05 384.53C252.74 383.16 253.46 381.77 257.32 381.42C261.19 381.07 265.05 380.89 271.23 382.44C277.42 383.99 286.69 386.76 294.42 390.72C302.15 394.67 313.75 403.61 317.61 406.19" stroke="#3a3a3a" stroke-width="0.95" fill="none" stroke-dasharray="2.6 2.2"/>
<rect x="36.85" y="410.35" width="5" height="5" fill="#111"/>
<rect x="60.04" y="403.09" width="5" height="5" fill="#111"/>
<rect x="83.23" y="404.74" width="5" height="5" fill="#111"/>
<rect x="106.42" y="406.42" width="5" height="5" fill="#111"/>
<rect x="129.6" y="407.08" width="5" height="5" fill="#111"/>
<rect x="143.52" y="407.08" width="5" height="5" fill="#111"/>
<rect x="152.79" y="406.61" width="5" height="5" fill="#111"/>
<rect x="175.98" y="403.6" width="5" height="5" fill="#111"/>
<rect x="199.17" y="396.78" width="5" height="5" fill="#111"/>
<rect x="222.36" y="388.37" width="5" height="5" fill="#111"/>
<rect x="245.55" y="382.03" width="5" height="5" fill="#111"/>
<rect x="254.82" y="378.92" width="5" height="5" fill="#111"/>
<rect x="268.73" y="379.94" width="5" height="5" fill="#111"/>
<rect x="291.92" y="388.22" width="5" height="5" fill="#111"/>
<rect x="315.11" y="403.69" width="5" height="5" fill="#111"/>
<path d="M39.35 397.31C43.21 397.14 54.81 397.05 62.54 396.3C70.27 395.54 78 393.36 85.73 392.78C93.46 392.19 101.19 392.37 108.92 392.78C116.64 393.18 125.92 394.73 132.1 395.19C138.29 395.64 142.15 395.5 146.02 395.5C149.88 395.5 150.67 395.56 155.29 395.19C159.92 394.82 170.75 394.3 178.48 392.9C186.21 391.51 193.94 388.2 201.67 386.81C209.4 385.42 217.13 384.94 224.86 384.56C232.59 384.18 243.3 384.84 248.05 384.53C252.79 384.22 253.46 382.44 257.32 382.44C261.19 382.44 265.05 383.34 271.23 384.53C277.42 385.73 286.69 385.83 294.42 389.61C302.15 393.38 313.75 404.27 317.61 407.21" stroke="#3a3a3a" stroke-width="0.95" fill="none"/>
<path d="M39.35 395.11L41.45 398.99L37.25 398.99Z" fill="#fff" stroke="#222" stroke-width="0.8"/>
<path d="M62.54 394.09L64.64 397.98L60.44 397.98Z" fill="#fff" stroke="#222" stroke-width="0.8"/>
<path d="M85.73 390.57L87.83 394.46L83.63 394.46Z" fill="#fff" stroke="#222" stroke-width="0.8"/>
<path d="M108.92 390.57L111.02 394.46L106.82 394.46Z" fill="#fff" stroke="#222" stroke-width="0.8"/>
<path d="M132.1 392.98L134.2 396.87L130 396.87Z" fill="#fff" stroke="#222" stroke-width="0.8"/>
<path d="M146.02 393.3L148.12 397.18L143.92 397.18Z" fill="#fff" stroke="#222" stroke-width="0.8"/>
<path d="M155.29 392.98L157.39 396.87L153.19 396.87Z" fill="#fff" stroke="#222" stroke-width="0.8"/>
<path d="M178.48 390.7L180.58 394.58L176.38 394.58Z" fill="#fff" stroke="#222" stroke-width="0.8"/>
<path d="M201.67 384.61L203.77 388.49L199.57 388.49Z" fill="#fff" stroke="#222" stroke-width="0.8"/>
<path d="M224.86 382.36L226.96 386.24L222.76 386.24Z" fill="#fff" stroke="#222" stroke-width="0.8"/>
<path d="M248.05 382.33L250.15 386.21L245.95 386.21Z" fill="#fff" stroke="#222" stroke-width="0.8"/>
<path d="M257.32 380.23L259.42 384.12L255.22 384.12Z" fill="#fff" stroke="#222" stroke-width="0.8"/>
<path d="M271.23 382.33L273.33 386.21L269.13 386.21Z" fill="#fff" stroke="#222" stroke-width="0.8"/>
<path d="M294.42 387.4L296.52 391.29L292.32 391.29Z" fill="#fff" stroke="#222" stroke-width="0.8"/>
<path d="M317.61 405L319.71 408.89L315.51 408.89Z" fill="#fff" stroke="#222" stroke-width="0.8"/>
<path d="M39.35 386.97C43.21 386.9 54.81 387.04 62.54 386.56C70.27 386.08 78 384.5 85.73 384.09C93.46 383.67 101.19 384.01 108.92 384.09C116.64 384.17 125.92 384.48 132.1 384.56C138.29 384.64 142.15 384.51 146.02 384.56C149.88 384.62 150.65 384.93 155.29 384.88C159.93 384.83 170.75 384.67 178.48 384.25C186.21 383.82 193.94 382.72 201.67 382.31C209.4 381.9 217.13 381.51 224.86 381.8C232.59 382.1 243.42 383.7 248.05 384.09C252.67 384.48 253.46 383.94 257.32 384.53C261.19 385.12 265.05 386.58 271.23 387.61C277.42 388.64 286.69 387.62 294.42 390.72C302.15 393.81 313.75 403.61 317.61 406.19" stroke="#3a3a3a" stroke-width="0.95" fill="none" stroke-dasharray="2.6 2.2"/>
<path d="M39.35 384.33L41.75 388.77L36.95 388.77Z" fill="#111"/>
<path d="M62.54 383.92L64.94 388.36L60.14 388.36Z" fill="#111"/>
<path d="M85.73 381.45L88.13 385.89L83.33 385.89Z" fill="#111"/>
<path d="M108.92 381.45L111.32 385.89L106.52 385.89Z" fill="#111"/>
<path d="M132.1 381.92L134.5 386.36L129.7 386.36Z" fill="#111"/>
<path d="M146.02 381.92L148.42 386.36L143.62 386.36Z" fill="#111"/>
<path d="M155.29 382.24L157.69 386.68L152.89 386.68Z" fill="#111"/>
<path d="M178.48 381.61L180.88 386.05L176.08 386.05Z" fill="#111"/>
<path d="M201.67 379.67L204.07 384.11L199.27 384.11Z" fill="#111"/>
<path d="M224.86 379.16L227.26 383.6L222.46 383.6Z" fill="#111"/>
<path d="M248.05 381.45L250.45 385.89L245.65 385.89Z" fill="#111"/>
<path d="M257.32 381.89L259.72 386.33L254.92 386.33Z" fill="#111"/>
<path d="M271.23 384.97L273.63 389.41L268.83 389.41Z" fill="#111"/>
<path d="M294.42 388.08L296.82 392.52L292.02 392.52Z" fill="#111"/>
<path d="M317.61 403.55L320.01 407.99L315.21 407.99Z" fill="#111"/>
<rect x="258.5" y="462.3" width="79.1" height="109.3" fill="#fff" stroke="#4a4a4a" stroke-width="1.1"/>
<path d="M266.3 471.7H284.4" stroke="#3a3a3a" stroke-width="1"/>
<circle cx="275.2" cy="471.7" r="2.3" fill="#fff" stroke="#222" stroke-width="0.9"/>
<text x="286.6" y="475.45" font-family="Liberation Serif" font-weight="bold" font-size="13.5" textLength="39.48" lengthAdjust="spacingAndGlyphs">z=5mm</text>
<path d="M266.3 489.98H284.4" stroke="#3a3a3a" stroke-width="1" stroke-dasharray="2.6 2.2"/>
<circle cx="275.2" cy="489.98" r="2.25" fill="#111"/>
<text x="286.6" y="493.73" font-family="Liberation Serif" font-weight="bold" font-size="13.5" textLength="45.8" lengthAdjust="spacingAndGlyphs">z=10mm</text>
<path d="M266.3 508.26H284.4" stroke="#3a3a3a" stroke-width="1"/>
<rect x="272.9" y="505.96" width="4.6" height="4.6" fill="#fff" stroke="#222" stroke-width="0.9"/>
<text x="286.6" y="512.01" font-family="Liberation Serif" font-weight="bold" font-size="13.5" textLength="45.8" lengthAdjust="spacingAndGlyphs">z=15mm</text>
<path d="M266.3 526.54H284.4" stroke="#3a3a3a" stroke-width="1" stroke-dasharray="2.6 2.2"/>
<rect x="272.7" y="524.04" width="5" height="5" fill="#111"/>
<text x="286.6" y="530.29" font-family="Liberation Serif" font-weight="bold" font-size="13.5" textLength="45.8" lengthAdjust="spacingAndGlyphs">z=20mm</text>
<path d="M266.3 544.82H284.4" stroke="#3a3a3a" stroke-width="1"/>
<path d="M275.2 542.61L277.3 546.5L273.1 546.5Z" fill="#fff" stroke="#222" stroke-width="0.8"/>
<text x="286.6" y="548.57" font-family="Liberation Serif" font-weight="bold" font-size="13.5" textLength="45.8" lengthAdjust="spacingAndGlyphs">z=25mm</text>
<path d="M266.3 563.1H284.4" stroke="#3a3a3a" stroke-width="1" stroke-dasharray="2.6 2.2"/>
<path d="M275.2 560.46L277.6 564.9L272.8 564.9Z" fill="#111"/>
<text x="286.6" y="566.85" font-family="Liberation Serif" font-weight="bold" font-size="13.5" textLength="45.8" lengthAdjust="spacingAndGlyphs">z=30mm</text>
<rect x="45" y="333.4" width="71.3" height="34.1" fill="#fff" stroke="#4a4a4a" stroke-width="1.1"/>
<text x="47.7" y="348.2" font-family="Liberation Serif" font-weight="bold" font-size="14.2" textLength="47.8" lengthAdjust="spacingAndGlyphs"><tspan font-style="italic" font-weight="normal">p</tspan> = 5 Pa</text>
<text x="47.7" y="363.7" font-family="Liberation Serif" font-weight="bold" font-size="14.2" textLength="67.1" lengthAdjust="spacingAndGlyphs"><tspan font-style="italic" font-weight="normal">P</tspan><tspan font-size="10.22" dy="3.55">RF</tspan><tspan dy="-3.55"> = 50 W</tspan></text>
<path d="M122.83 328.4V582.1M169.21 328.4V582.1M234.13 328.4V582.1M280.51 328.4V582.1" stroke="#4a4a4a" stroke-width="1.1" fill="none" stroke-dasharray="2.5 2.05"/>
<text x="28.5" y="332.6" font-family="Liberation Serif" font-weight="bold" font-size="12" text-anchor="end">4</text>
<text x="28.5" y="396.02" font-family="Liberation Serif" font-weight="bold" font-size="12" text-anchor="end">2</text>
<text x="28.5" y="459.45" font-family="Liberation Serif" font-weight="bold" font-size="12" text-anchor="end">0</text>
<text x="28.5" y="522.88" font-family="Liberation Serif" font-weight="bold" font-size="12" text-anchor="end">-2</text>
<text x="28.5" y="586.3" font-family="Liberation Serif" font-weight="bold" font-size="12" text-anchor="end">-4</text>
<text x="39.35" y="597" font-family="Liberation Serif" font-weight="bold" font-size="10" text-anchor="middle">0</text>
<text x="85.73" y="597" font-family="Liberation Serif" font-weight="bold" font-size="10" text-anchor="middle">10</text>
<text x="132.1" y="597" font-family="Liberation Serif" font-weight="bold" font-size="10" text-anchor="middle">20</text>
<text x="178.48" y="597" font-family="Liberation Serif" font-weight="bold" font-size="10" text-anchor="middle">30</text>
<text x="224.86" y="597" font-family="Liberation Serif" font-weight="bold" font-size="10" text-anchor="middle">40</text>
<text x="271.23" y="597" font-family="Liberation Serif" font-weight="bold" font-size="10" text-anchor="middle">50</text>
<text x="317.61" y="597" font-family="Liberation Serif" font-weight="bold" font-size="10" text-anchor="middle">60</text>
<text x="135.85" y="612.3" font-family="Liberation Serif" font-weight="bold" font-size="10.5" textLength="109.3" lengthAdjust="spacingAndGlyphs">Radial position <tspan font-style="italic">r</tspan> (mm)</text>
<text transform="translate(14.2 454.4) rotate(-90)" x="-74.4" y="0" font-family="Liberation Serif" font-weight="bold" font-size="14" textLength="148.8" lengthAdjust="spacingAndGlyphs">Ion flux <tspan font-style="italic">&#915;</tspan><tspan font-size="9.52" dy="3.08">i</tspan><tspan dy="-3.08"> (&#215; 10</tspan><tspan font-size="9.52" dy="-4.62">20</tspan><tspan dy="4.62"> m</tspan><tspan font-size="9.52" dy="-4.62">-2</tspan><tspan dy="4.62"> s</tspan><tspan font-size="9.52" dy="-4.62">-1</tspan><tspan dy="4.62">)</tspan></text>
<text x="189.9" y="628.5" font-family="Liberation Sans" font-size="12.5" text-anchor="middle">(c)</text>
</g>
<g>
<path d="M480.72 327.4V568.3M524.85 327.4V568.3M568.97 327.4V568.3M613.09 327.4V568.3M657.22 327.4V568.3M701.34 327.4V568.3M436.6 375.58H723.4M436.6 423.76H723.4M436.6 471.94H723.4M436.6 520.12H723.4" stroke="#4a4a4a" stroke-width="1.05" fill="none"/>
<path d="M441.01 568.3v-2.6M445.42 568.3v-2.6M449.84 568.3v-2.6M454.25 568.3v-2.6M458.66 568.3v-2.6M463.07 568.3v-2.6M467.49 568.3v-2.6M471.9 568.3v-2.6M476.31 568.3v-2.6M480.72 568.3v-2.6M485.14 568.3v-2.6M489.55 568.3v-2.6M493.96 568.3v-2.6M498.37 568.3v-2.6M502.78 568.3v-2.6M507.2 568.3v-2.6M511.61 568.3v-2.6M516.02 568.3v-2.6M520.43 568.3v-2.6M524.85 568.3v-2.6M529.26 568.3v-2.6M533.67 568.3v-2.6M538.08 568.3v-2.6M542.5 568.3v-2.6M546.91 568.3v-2.6M551.32 568.3v-2.6M555.73 568.3v-2.6M560.14 568.3v-2.6M564.56 568.3v-2.6M568.97 568.3v-2.6M573.38 568.3v-2.6M577.79 568.3v-2.6M582.21 568.3v-2.6M586.62 568.3v-2.6M591.03 568.3v-2.6M595.44 568.3v-2.6M599.86 568.3v-2.6M604.27 568.3v-2.6M608.68 568.3v-2.6M613.09 568.3v-2.6M617.5 568.3v-2.6M621.92 568.3v-2.6M626.33 568.3v-2.6M630.74 568.3v-2.6M635.15 568.3v-2.6M639.57 568.3v-2.6M643.98 568.3v-2.6M648.39 568.3v-2.6M652.8 568.3v-2.6M657.22 568.3v-2.6M661.63 568.3v-2.6M666.04 568.3v-2.6M670.45 568.3v-2.6M674.86 568.3v-2.6M679.28 568.3v-2.6M683.69 568.3v-2.6M688.1 568.3v-2.6M692.51 568.3v-2.6M696.93 568.3v-2.6M701.34 568.3v-2.6M705.75 568.3v-2.6M710.16 568.3v-2.6M714.58 568.3v-2.6M718.99 568.3v-2.6M436.6 544.21h2.4M436.6 520.12h2.4M436.6 496.03h2.4M436.6 471.94h2.4M436.6 447.85h2.4M436.6 423.76h2.4M436.6 399.67h2.4M436.6 375.58h2.4M436.6 351.49h2.4" stroke="#2e2e2e" stroke-width="1" fill="none"/>
<rect x="436.6" y="327.4" width="286.8" height="240.9" fill="none" stroke="#2e2e2e" stroke-width="1.25"/>
<path d="M436.6 562.81C440.28 562.74 451.31 563.07 458.66 562.37C466.02 561.68 473.37 560.54 480.72 558.62C488.08 556.69 495.43 553.12 502.78 550.81C510.14 548.51 518.96 543.82 524.85 544.79C530.73 545.75 534.41 556.29 538.08 556.59C541.76 556.9 542.88 551.92 546.91 546.62C550.93 541.31 561.62 517.37 568.97 515.88C576.32 514.39 583.68 534.94 591.03 537.71C598.38 540.48 605.74 540.51 613.09 532.5C620.45 524.5 630.01 506.59 635.15 489.67C640.3 472.75 640.3 449.84 643.98 430.99C647.66 412.13 651.33 370.29 657.22 376.54C663.1 382.8 671.92 442.49 679.28 468.52C686.63 494.54 697.66 522 701.34 532.69" stroke="#3a3a3a" stroke-width="0.95" fill="none"/>
<circle cx="436.6" cy="562.81" r="2.3" fill="#fff" stroke="#222" stroke-width="0.9"/>
<circle cx="458.66" cy="562.37" r="2.3" fill="#fff" stroke="#222" stroke-width="0.9"/>
<circle cx="480.72" cy="558.62" r="2.3" fill="#fff" stroke="#222" stroke-width="0.9"/>
<circle cx="502.78" cy="550.81" r="2.3" fill="#fff" stroke="#222" stroke-width="0.9"/>
<circle cx="524.85" cy="544.79" r="2.3" fill="#fff" stroke="#222" stroke-width="0.9"/>
<circle cx="538.08" cy="556.59" r="2.3" fill="#fff" stroke="#222" stroke-width="0.9"/>
<circle cx="546.91" cy="546.62" r="2.3" fill="#fff" stroke="#222" stroke-width="0.9"/>
<circle cx="568.97" cy="515.88" r="2.3" fill="#fff" stroke="#222" stroke-width="0.9"/>
<circle cx="591.03" cy="537.71" r="2.3" fill="#fff" stroke="#222" stroke-width="0.9"/>
<circle cx="613.09" cy="532.5" r="2.3" fill="#fff" stroke="#222" stroke-width="0.9"/>
<circle cx="635.15" cy="489.67" r="2.3" fill="#fff" stroke="#222" stroke-width="0.9"/>
<circle cx="643.98" cy="430.99" r="2.3" fill="#fff" stroke="#222" stroke-width="0.9"/>
<circle cx="657.22" cy="376.54" r="2.3" fill="#fff" stroke="#222" stroke-width="0.9"/>
<circle cx="679.28" cy="468.52" r="2.3" fill="#fff" stroke="#222" stroke-width="0.9"/>
<circle cx="701.34" cy="532.69" r="2.3" fill="#fff" stroke="#222" stroke-width="0.9"/>
<path d="M436.6 548.69C440.28 548.55 451.31 548.63 458.66 547.87C466.02 547.11 473.37 546.63 480.72 544.11C488.08 541.6 495.43 537.38 502.78 532.79C510.14 528.21 518.96 521.33 524.85 516.6C530.73 511.87 534.41 508.03 538.08 504.41C541.76 500.8 541.76 498.53 546.91 494.92C552.06 491.32 561.62 482.55 568.97 482.78C576.32 483.01 583.68 494.83 591.03 496.32C598.38 497.8 605.74 500.17 613.09 491.69C620.45 483.22 631.15 453.51 635.15 445.49C639.16 437.47 640.3 434.05 643.98 429.88C647.66 425.71 651.33 419.3 657.22 420.48C663.1 421.67 672.88 424.8 679.28 437.01C685.68 449.21 697.66 493.34 701.34 504.61" stroke="#3a3a3a" stroke-width="0.95" fill="none" stroke-dasharray="2.6 2.2"/>
<circle cx="436.6" cy="548.69" r="2.25" fill="#111"/>
<circle cx="458.66" cy="547.87" r="2.25" fill="#111"/>
<circle cx="480.72" cy="544.11" r="2.25" fill="#111"/>
<circle cx="502.78" cy="532.79" r="2.25" fill="#111"/>
<circle cx="524.85" cy="516.6" r="2.25" fill="#111"/>
<circle cx="538.08" cy="504.41" r="2.25" fill="#111"/>
<circle cx="546.91" cy="494.92" r="2.25" fill="#111"/>
<circle cx="568.97" cy="482.78" r="2.25" fill="#111"/>
<circle cx="591.03" cy="496.32" r="2.25" fill="#111"/>
<circle cx="613.09" cy="491.69" r="2.25" fill="#111"/>
<circle cx="635.15" cy="445.49" r="2.25" fill="#111"/>
<circle cx="643.98" cy="429.88" r="2.25" fill="#111"/>
<circle cx="657.22" cy="420.48" r="2.25" fill="#111"/>
<circle cx="679.28" cy="437.01" r="2.25" fill="#111"/>
<circle cx="701.34" cy="504.61" r="2.25" fill="#111"/>
<path d="M436.6 524.12C440.28 524.12 451.31 524.23 458.66 524.12C466.02 524.01 473.37 524.87 480.72 523.44C488.08 522.02 495.43 518.76 502.78 515.59C510.14 512.42 518.96 507.67 524.85 504.41C530.73 501.16 534.41 498.76 538.08 496.08C541.76 493.4 541.93 491.44 546.91 488.32C551.89 485.21 561.62 480.28 568.97 476.76C576.32 473.24 583.68 470.65 591.03 467.22C598.38 463.79 605.74 460.22 613.09 456.19C620.45 452.15 630.01 447.08 635.15 443.03C640.3 438.98 640.3 433.73 643.98 431.9C647.66 430.08 651.33 430.26 657.22 432.1C663.1 433.93 671.92 436.17 679.28 442.89C686.63 449.61 697.66 467.5 701.34 472.42" stroke="#3a3a3a" stroke-width="0.95" fill="none"/>
<rect x="434.3" y="521.82" width="4.6" height="4.6" fill="#fff" stroke="#222" stroke-width="0.9"/>
<rect x="456.36" y="521.82" width="4.6" height="4.6" fill="#fff" stroke="#222" stroke-width="0.9"/>
<rect x="478.42" y="521.14" width="4.6" height="4.6" fill="#fff" stroke="#222" stroke-width="0.9"/>
<rect x="500.48" y="513.29" width="4.6" height="4.6" fill="#fff" stroke="#222" stroke-width="0.9"/>
<rect x="522.55" y="502.11" width="4.6" height="4.6" fill="#fff" stroke="#222" stroke-width="0.9"/>
<rect x="535.78" y="493.78" width="4.6" height="4.6" fill="#fff" stroke="#222" stroke-width="0.9"/>
<rect x="544.61" y="486.02" width="4.6" height="4.6" fill="#fff" stroke="#222" stroke-width="0.9"/>
<rect x="566.67" y="474.46" width="4.6" height="4.6" fill="#fff" stroke="#222" stroke-width="0.9"/>
<rect x="588.73" y="464.92" width="4.6" height="4.6" fill="#fff" stroke="#222" stroke-width="0.9"/>
<rect x="610.79" y="453.89" width="4.6" height="4.6" fill="#fff" stroke="#222" stroke-width="0.9"/>
<rect x="632.85" y="440.73" width="4.6" height="4.6" fill="#fff" stroke="#222" stroke-width="0.9"/>
<rect x="641.68" y="429.6" width="4.6" height="4.6" fill="#fff" stroke="#222" stroke-width="0.9"/>
<rect x="654.92" y="429.8" width="4.6" height="4.6" fill="#fff" stroke="#222" stroke-width="0.9"/>
<rect x="676.98" y="440.59" width="4.6" height="4.6" fill="#fff" stroke="#222" stroke-width="0.9"/>
<rect x="699.04" y="470.12" width="4.6" height="4.6" fill="#fff" stroke="#222" stroke-width="0.9"/>
<path d="M436.6 508.6C440.28 508.48 451.31 508.85 458.66 507.88C466.02 506.92 473.37 505.34 480.72 502.82C488.08 500.31 495.43 496.32 502.78 492.8C510.14 489.28 518.96 484.47 524.85 481.72C530.73 478.97 534.41 477.88 538.08 476.28C541.76 474.67 542.36 473.86 546.91 472.08C551.46 470.31 561.62 466.93 568.97 464.23C576.32 461.53 583.68 458.59 591.03 455.9C598.38 453.21 605.74 450.77 613.09 448.09C620.45 445.41 630.89 440.95 635.15 439.8C639.42 438.66 640.3 439.8 643.98 439.8C647.66 439.8 651.33 438.42 657.22 439.8C663.1 441.19 671.92 443.49 679.28 448.09C686.63 452.69 697.66 464.19 701.34 467.41" stroke="#3a3a3a" stroke-width="0.95" fill="none" stroke-dasharray="2.6 2.2"/>
<rect x="434.1" y="506.1" width="5" height="5" fill="#111"/>
<rect x="456.16" y="505.38" width="5" height="5" fill="#111"/>
<rect x="478.22" y="500.32" width="5" height="5" fill="#111"/>
<rect x="500.28" y="490.3" width="5" height="5" fill="#111"/>
<rect x="522.35" y="479.22" width="5" height="5" fill="#111"/>
<rect x="535.58" y="473.78" width="5" height="5" fill="#111"/>
<rect x="544.41" y="469.58" width="5" height="5" fill="#111"/>
<rect x="566.47" y="461.73" width="5" height="5" fill="#111"/>
<rect x="588.53" y="453.4" width="5" height="5" fill="#111"/>
<rect x="610.59" y="445.59" width="5" height="5" fill="#111"/>
<rect x="632.65" y="437.3" width="5" height="5" fill="#111"/>
<rect x="641.48" y="437.3" width="5" height="5" fill="#111"/>
<rect x="654.72" y="437.3" width="5" height="5" fill="#111"/>
<rect x="676.78" y="445.59" width="5" height="5" fill="#111"/>
<rect x="698.84" y="464.91" width="5" height="5" fill="#111"/>
<path d="M436.6 500.32C440.28 499.93 451.31 499.6 458.66 498.01C466.02 496.42 473.37 493.16 480.72 490.78C488.08 488.39 495.43 486.18 502.78 483.7C510.14 481.21 518.96 478.41 524.85 475.89C530.73 473.37 534.41 470.46 538.08 468.57C541.76 466.67 542.39 466.28 546.91 464.52C551.43 462.76 561.62 459.2 568.97 456.52C576.32 453.85 583.68 449.92 591.03 448.48C598.38 447.03 605.74 447.95 613.09 447.85C620.45 447.75 630.74 447.9 635.15 447.85C639.57 447.8 640.3 447.39 643.98 447.51C647.66 447.63 651.33 447.1 657.22 448.57C663.1 450.05 671.92 451.12 679.28 456.38C686.63 461.64 697.66 476.17 701.34 480.13" stroke="#3a3a3a" stroke-width="0.95" fill="none"/>
<path d="M436.6 498.11L438.7 502L434.5 502Z" fill="#fff" stroke="#222" stroke-width="0.8"/>
<path d="M458.66 495.8L460.76 499.69L456.56 499.69Z" fill="#fff" stroke="#222" stroke-width="0.8"/>
<path d="M480.72 488.57L482.82 492.46L478.62 492.46Z" fill="#fff" stroke="#222" stroke-width="0.8"/>
<path d="M502.78 481.49L504.88 485.38L500.68 485.38Z" fill="#fff" stroke="#222" stroke-width="0.8"/>
<path d="M524.85 473.69L526.95 477.57L522.75 477.57Z" fill="#fff" stroke="#222" stroke-width="0.8"/>
<path d="M538.08 466.36L540.18 470.25L535.98 470.25Z" fill="#fff" stroke="#222" stroke-width="0.8"/>
<path d="M546.91 462.32L549.01 466.2L544.81 466.2Z" fill="#fff" stroke="#222" stroke-width="0.8"/>
<path d="M568.97 454.32L571.07 458.2L566.87 458.2Z" fill="#fff" stroke="#222" stroke-width="0.8"/>
<path d="M591.03 446.27L593.13 450.16L588.93 450.16Z" fill="#fff" stroke="#222" stroke-width="0.8"/>
<path d="M613.09 445.64L615.19 449.53L610.99 449.53Z" fill="#fff" stroke="#222" stroke-width="0.8"/>
<path d="M635.15 445.64L637.25 449.53L633.05 449.53Z" fill="#fff" stroke="#222" stroke-width="0.8"/>
<path d="M643.98 445.31L646.08 449.19L641.88 449.19Z" fill="#fff" stroke="#222" stroke-width="0.8"/>
<path d="M657.22 446.37L659.32 450.25L655.12 450.25Z" fill="#fff" stroke="#222" stroke-width="0.8"/>
<path d="M679.28 454.17L681.38 458.06L677.18 458.06Z" fill="#fff" stroke="#222" stroke-width="0.8"/>
<path d="M701.34 477.93L703.44 481.81L699.24 481.81Z" fill="#fff" stroke="#222" stroke-width="0.8"/>
<path d="M436.6 489.28C440.28 488.94 451.31 488.86 458.66 487.21C466.02 485.57 473.37 481.93 480.72 479.41C488.08 476.89 495.43 474.57 502.78 472.08C510.14 469.6 518.96 465.85 524.85 464.52C530.73 463.19 534.41 465.37 538.08 464.09C541.76 462.8 541.76 458.07 546.91 456.81C552.06 455.55 561.62 457.94 568.97 456.52C576.32 455.11 583.68 449.78 591.03 448.33C598.38 446.89 605.74 447.81 613.09 447.85C620.45 447.89 630.59 448.1 635.15 448.57C639.72 449.05 640.3 449.78 643.98 451.08C647.66 452.38 651.33 454.21 657.22 456.38C663.1 458.55 671.92 459.63 679.28 464.09C686.63 468.54 697.66 479.95 701.34 483.12" stroke="#3a3a3a" stroke-width="0.95" fill="none" stroke-dasharray="2.6 2.2"/>
<path d="M436.6 486.64L439 491.08L434.2 491.08Z" fill="#111"/>
<path d="M458.66 484.57L461.06 489.01L456.26 489.01Z" fill="#111"/>
<path d="M480.72 476.77L483.12 481.21L478.32 481.21Z" fill="#111"/>
<path d="M502.78 469.44L505.18 473.88L500.38 473.88Z" fill="#111"/>
<path d="M524.85 461.88L527.25 466.32L522.45 466.32Z" fill="#111"/>
<path d="M538.08 461.45L540.48 465.89L535.68 465.89Z" fill="#111"/>
<path d="M546.91 454.17L549.31 458.61L544.51 458.61Z" fill="#111"/>
<path d="M568.97 453.88L571.37 458.32L566.57 458.32Z" fill="#111"/>
<path d="M591.03 445.69L593.43 450.13L588.63 450.13Z" fill="#111"/>
<path d="M613.09 445.21L615.49 449.65L610.69 449.65Z" fill="#111"/>
<path d="M635.15 445.93L637.55 450.37L632.75 450.37Z" fill="#111"/>
<path d="M643.98 448.44L646.38 452.88L641.58 452.88Z" fill="#111"/>
<path d="M657.22 453.74L659.62 458.18L654.82 458.18Z" fill="#111"/>
<path d="M679.28 461.45L681.68 465.89L676.88 465.89Z" fill="#111"/>
<path d="M701.34 480.48L703.74 484.92L698.94 484.92Z" fill="#111"/>
<rect x="444.5" y="335.2" width="71" height="117.6" fill="#fff" stroke="#4a4a4a" stroke-width="1.1"/>
<path d="M449.9 344.7H466.1" stroke="#3a3a3a" stroke-width="1"/>
<circle cx="457.8" cy="344.7" r="2.3" fill="#fff" stroke="#222" stroke-width="0.9"/>
<text x="468.8" y="348.21" font-family="Liberation Serif" font-weight="bold" font-size="12.64" textLength="37.24" lengthAdjust="spacingAndGlyphs">z=5mm</text>
<path d="M449.9 364.46H466.1" stroke="#3a3a3a" stroke-width="1" stroke-dasharray="2.6 2.2"/>
<circle cx="457.8" cy="364.46" r="2.25" fill="#111"/>
<text x="468.8" y="367.97" font-family="Liberation Serif" font-weight="bold" font-size="12.64" textLength="43.2" lengthAdjust="spacingAndGlyphs">z=10mm</text>
<path d="M449.9 384.22H466.1" stroke="#3a3a3a" stroke-width="1"/>
<rect x="455.5" y="381.92" width="4.6" height="4.6" fill="#fff" stroke="#222" stroke-width="0.9"/>
<text x="468.8" y="387.73" font-family="Liberation Serif" font-weight="bold" font-size="12.64" textLength="43.2" lengthAdjust="spacingAndGlyphs">z=15mm</text>
<path d="M449.9 403.98H466.1" stroke="#3a3a3a" stroke-width="1" stroke-dasharray="2.6 2.2"/>
<rect x="455.3" y="401.48" width="5" height="5" fill="#111"/>
<text x="468.8" y="407.49" font-family="Liberation Serif" font-weight="bold" font-size="12.64" textLength="43.2" lengthAdjust="spacingAndGlyphs">z=20mm</text>
<path d="M449.9 423.74H466.1" stroke="#3a3a3a" stroke-width="1"/>
<path d="M457.8 421.54L459.9 425.42L455.7 425.42Z" fill="#fff" stroke="#222" stroke-width="0.8"/>
<text x="468.8" y="427.25" font-family="Liberation Serif" font-weight="bold" font-size="12.64" textLength="43.2" lengthAdjust="spacingAndGlyphs">z=25mm</text>
<path d="M449.9 443.5H466.1" stroke="#3a3a3a" stroke-width="1" stroke-dasharray="2.6 2.2"/>
<path d="M457.8 440.86L460.2 445.3L455.4 445.3Z" fill="#111"/>
<text x="468.8" y="447.01" font-family="Liberation Serif" font-weight="bold" font-size="12.64" textLength="43.2" lengthAdjust="spacingAndGlyphs">z=30mm</text>
<rect x="653.4" y="331.2" width="67.9" height="32.5" fill="#fff" stroke="#4a4a4a" stroke-width="1.1"/>
<text x="655.8" y="345" font-family="Liberation Serif" font-weight="bold" font-size="14" textLength="48.4" lengthAdjust="spacingAndGlyphs"><tspan font-style="italic" font-weight="normal">p</tspan> =10 Pa</text>
<text x="655.8" y="360.6" font-family="Liberation Serif" font-weight="bold" font-size="14" textLength="63.3" lengthAdjust="spacingAndGlyphs"><tspan font-style="italic" font-weight="normal">P</tspan><tspan font-size="10.08" dy="3.5">RF</tspan><tspan dy="-3.5"> = 50 W</tspan></text>
<path d="M516.02 327.4V568.3M560.14 327.4V568.3M621.92 327.4V568.3M666.04 327.4V568.3" stroke="#4a4a4a" stroke-width="1.1" fill="none" stroke-dasharray="2.5 2.05"/>
<text x="426" y="331.4" font-family="Liberation Serif" font-weight="bold" font-size="11.5" text-anchor="end">5</text>
<text x="426" y="379.58" font-family="Liberation Serif" font-weight="bold" font-size="11.5" text-anchor="end">4</text>
<text x="426" y="427.76" font-family="Liberation Serif" font-weight="bold" font-size="11.5" text-anchor="end">3</text>
<text x="426" y="475.94" font-family="Liberation Serif" font-weight="bold" font-size="11.5" text-anchor="end">2</text>
<text x="426" y="524.12" font-family="Liberation Serif" font-weight="bold" font-size="11.5" text-anchor="end">1</text>
<text x="426" y="572.3" font-family="Liberation Serif" font-weight="bold" font-size="11.5" text-anchor="end">0</text>
<text x="436.6" y="586.5" font-family="Liberation Serif" font-weight="bold" font-size="11.5" text-anchor="middle">0</text>
<text x="480.72" y="586.5" font-family="Liberation Serif" font-weight="bold" font-size="11.5" text-anchor="middle">10</text>
<text x="524.85" y="586.5" font-family="Liberation Serif" font-weight="bold" font-size="11.5" text-anchor="middle">20</text>
<text x="568.97" y="586.5" font-family="Liberation Serif" font-weight="bold" font-size="11.5" text-anchor="middle">30</text>
<text x="613.09" y="586.5" font-family="Liberation Serif" font-weight="bold" font-size="11.5" text-anchor="middle">40</text>
<text x="657.22" y="586.5" font-family="Liberation Serif" font-weight="bold" font-size="11.5" text-anchor="middle">50</text>
<text x="701.34" y="586.5" font-family="Liberation Serif" font-weight="bold" font-size="11.5" text-anchor="middle">60</text>
<text x="515.7" y="602.5" font-family="Liberation Serif" font-weight="bold" font-size="14.8" textLength="128.2" lengthAdjust="spacingAndGlyphs">Radial position <tspan font-style="italic">r</tspan> (mm)</text>
<text transform="translate(415.2 447) rotate(-90)" x="-70.85" y="0" font-family="Liberation Serif" font-weight="bold" font-size="13" textLength="141.7" lengthAdjust="spacingAndGlyphs">Ion flux <tspan font-style="italic">&#915;</tspan><tspan font-size="8.84" dy="2.86">i</tspan><tspan dy="-2.86"> (&#215; 10</tspan><tspan font-size="8.84" dy="-4.29">20</tspan><tspan dy="4.29"> m</tspan><tspan font-size="8.84" dy="-4.29">-2</tspan><tspan dy="4.29"> s</tspan><tspan font-size="8.84" dy="-4.29">-1</tspan><tspan dy="4.29">)</tspan></text>
<text x="560.7" y="629" font-family="Liberation Sans" font-size="12.5" text-anchor="middle">(d)</text>
</g>
<g>
<path d="M88.98 641.4V888.3M136 641.4V888.3M183.02 641.4V888.3M230.05 641.4V888.3M277.07 641.4V888.3M324.09 641.4V888.3M41.96 703.12H347.6M41.96 764.85H347.6M41.96 826.57H347.6" stroke="#4a4a4a" stroke-width="1.05" fill="none"/>
<path d="M46.66 888.3v-2.6M51.36 888.3v-2.6M56.07 888.3v-2.6M60.77 888.3v-2.6M65.47 888.3v-2.6M70.17 888.3v-2.6M74.88 888.3v-2.6M79.58 888.3v-2.6M84.28 888.3v-2.6M88.98 888.3v-2.6M93.68 888.3v-2.6M98.39 888.3v-2.6M103.09 888.3v-2.6M107.79 888.3v-2.6M112.49 888.3v-2.6M117.19 888.3v-2.6M121.9 888.3v-2.6M126.6 888.3v-2.6M131.3 888.3v-2.6M136 888.3v-2.6M140.71 888.3v-2.6M145.41 888.3v-2.6M150.11 888.3v-2.6M154.81 888.3v-2.6M159.51 888.3v-2.6M164.22 888.3v-2.6M168.92 888.3v-2.6M173.62 888.3v-2.6M178.32 888.3v-2.6M183.02 888.3v-2.6M187.73 888.3v-2.6M192.43 888.3v-2.6M197.13 888.3v-2.6M201.83 888.3v-2.6M206.54 888.3v-2.6M211.24 888.3v-2.6M215.94 888.3v-2.6M220.64 888.3v-2.6M225.34 888.3v-2.6M230.05 888.3v-2.6M234.75 888.3v-2.6M239.45 888.3v-2.6M244.15 888.3v-2.6M248.85 888.3v-2.6M253.56 888.3v-2.6M258.26 888.3v-2.6M262.96 888.3v-2.6M267.66 888.3v-2.6M272.37 888.3v-2.6M277.07 888.3v-2.6M281.77 888.3v-2.6M286.47 888.3v-2.6M291.17 888.3v-2.6M295.88 888.3v-2.6M300.58 888.3v-2.6M305.28 888.3v-2.6M309.98 888.3v-2.6M314.68 888.3v-2.6M319.39 888.3v-2.6M324.09 888.3v-2.6M328.79 888.3v-2.6M333.49 888.3v-2.6M338.2 888.3v-2.6M342.9 888.3v-2.6M41.96 857.44h2.4M41.96 826.57h2.4M41.96 795.71h2.4M41.96 764.85h2.4M41.96 733.99h2.4M41.96 703.12h2.4M41.96 672.26h2.4" stroke="#2e2e2e" stroke-width="1" fill="none"/>
<rect x="41.96" y="641.4" width="305.64" height="246.9" fill="none" stroke="#2e2e2e" stroke-width="1.25"/>
<path d="M41.96 877.81C45.88 877.73 57.63 878.5 65.47 877.37C73.31 876.25 81.14 874.81 88.98 871.08C96.82 867.34 104.66 860.4 112.49 854.97C120.33 849.54 129.73 842.96 136 838.49C142.27 834.01 146.19 832.72 150.11 828.12C154.03 823.52 154.03 812.05 159.51 810.9C165 809.74 175.19 815.97 183.02 821.2C190.86 826.44 198.7 840.57 206.54 842.31C214.37 844.06 223.93 843.06 230.05 831.7C236.16 820.34 248.07 779.86 253.56 754.97C259.04 730.09 259.9 694.55 262.96 682.39C266.02 670.22 271.76 650.28 277.07 661.65C282.37 673.01 292.74 732.19 300.58 763C308.42 793.81 320.17 832.59 324.09 846.51" stroke="#3a3a3a" stroke-width="0.95" fill="none"/>
<circle cx="41.96" cy="877.81" r="2.3" fill="#fff" stroke="#222" stroke-width="0.9"/>
<circle cx="65.47" cy="877.37" r="2.3" fill="#fff" stroke="#222" stroke-width="0.9"/>
<circle cx="88.98" cy="871.08" r="2.3" fill="#fff" stroke="#222" stroke-width="0.9"/>
<circle cx="112.49" cy="854.97" r="2.3" fill="#fff" stroke="#222" stroke-width="0.9"/>
<circle cx="136" cy="838.49" r="2.3" fill="#fff" stroke="#222" stroke-width="0.9"/>
<circle cx="150.11" cy="828.12" r="2.3" fill="#fff" stroke="#222" stroke-width="0.9"/>
<circle cx="159.51" cy="810.9" r="2.3" fill="#fff" stroke="#222" stroke-width="0.9"/>
<circle cx="183.02" cy="821.2" r="2.3" fill="#fff" stroke="#222" stroke-width="0.9"/>
<circle cx="206.54" cy="842.31" r="2.3" fill="#fff" stroke="#222" stroke-width="0.9"/>
<circle cx="230.05" cy="831.7" r="2.3" fill="#fff" stroke="#222" stroke-width="0.9"/>
<circle cx="253.56" cy="754.97" r="2.3" fill="#fff" stroke="#222" stroke-width="0.9"/>
<circle cx="262.96" cy="682.39" r="2.3" fill="#fff" stroke="#222" stroke-width="0.9"/>
<circle cx="277.07" cy="661.65" r="2.3" fill="#fff" stroke="#222" stroke-width="0.9"/>
<circle cx="300.58" cy="763" r="2.3" fill="#fff" stroke="#222" stroke-width="0.9"/>
<circle cx="324.09" cy="846.51" r="2.3" fill="#fff" stroke="#222" stroke-width="0.9"/>
<path d="M41.96 862.19C45.88 861.41 57.63 859.11 65.47 857.5C73.31 855.88 81.14 855.91 88.98 852.5C96.82 849.08 104.66 843.08 112.49 837.01C120.33 830.94 129.73 822.91 136 816.08C142.27 809.25 146.19 802.3 150.11 796.02C154.03 789.75 154.03 781.87 159.51 778.43C165 774.99 175.19 774.26 183.02 775.4C190.86 776.55 198.7 785.4 206.54 785.28C214.37 785.16 222.31 784.99 230.05 774.66C237.78 764.34 249.01 732.43 253.56 722.51C258.1 712.59 259.04 704.4 262.96 702.82C266.88 701.23 270.8 709.37 277.07 713C283.34 716.63 294.25 713.12 300.58 724.61C306.9 736.09 320.17 786.07 324.09 798.37" stroke="#3a3a3a" stroke-width="0.95" fill="none" stroke-dasharray="2.6 2.2"/>
<circle cx="41.96" cy="862.19" r="2.25" fill="#111"/>
<circle cx="65.47" cy="857.5" r="2.25" fill="#111"/>
<circle cx="88.98" cy="852.5" r="2.25" fill="#111"/>
<circle cx="112.49" cy="837.01" r="2.25" fill="#111"/>
<circle cx="136" cy="816.08" r="2.25" fill="#111"/>
<circle cx="150.11" cy="796.02" r="2.25" fill="#111"/>
<circle cx="159.51" cy="778.43" r="2.25" fill="#111"/>
<circle cx="183.02" cy="775.4" r="2.25" fill="#111"/>
<circle cx="206.54" cy="785.28" r="2.25" fill="#111"/>
<circle cx="230.05" cy="774.66" r="2.25" fill="#111"/>
<circle cx="253.56" cy="722.51" r="2.25" fill="#111"/>
<circle cx="262.96" cy="702.82" r="2.25" fill="#111"/>
<circle cx="277.07" cy="713" r="2.25" fill="#111"/>
<circle cx="300.58" cy="724.61" r="2.25" fill="#111"/>
<circle cx="324.09" cy="798.37" r="2.25" fill="#111"/>
<path d="M41.96 842.62C45.88 841.07 57.63 835.66 65.47 833.3C73.31 830.95 81.14 830.84 88.98 828.49C96.82 826.13 104.66 823.79 112.49 819.17C120.33 814.55 129.73 806.12 136 800.77C142.27 795.42 146.19 790.03 150.11 787.07C154.03 784.11 154.83 785.09 159.51 783C164.19 780.91 175.19 775.98 183.02 772.38C190.86 768.78 198.7 766.04 206.54 761.39C214.37 756.74 222.21 750.93 230.05 744.48C237.88 738.03 248.64 727.42 253.56 722.69C258.47 717.96 259.04 714.46 262.96 712.82C266.88 711.17 270.8 710.58 277.07 712.82C283.34 715.05 292.74 717.33 300.58 726.21C308.42 735.09 320.17 759.44 324.09 766.08" stroke="#3a3a3a" stroke-width="0.95" fill="none"/>
<rect x="39.66" y="840.32" width="4.6" height="4.6" fill="#fff" stroke="#222" stroke-width="0.9"/>
<rect x="63.17" y="831" width="4.6" height="4.6" fill="#fff" stroke="#222" stroke-width="0.9"/>
<rect x="86.68" y="826.19" width="4.6" height="4.6" fill="#fff" stroke="#222" stroke-width="0.9"/>
<rect x="110.19" y="816.87" width="4.6" height="4.6" fill="#fff" stroke="#222" stroke-width="0.9"/>
<rect x="133.7" y="798.47" width="4.6" height="4.6" fill="#fff" stroke="#222" stroke-width="0.9"/>
<rect x="147.81" y="784.77" width="4.6" height="4.6" fill="#fff" stroke="#222" stroke-width="0.9"/>
<rect x="157.21" y="780.7" width="4.6" height="4.6" fill="#fff" stroke="#222" stroke-width="0.9"/>
<rect x="180.72" y="770.08" width="4.6" height="4.6" fill="#fff" stroke="#222" stroke-width="0.9"/>
<rect x="204.24" y="759.09" width="4.6" height="4.6" fill="#fff" stroke="#222" stroke-width="0.9"/>
<rect x="227.75" y="742.18" width="4.6" height="4.6" fill="#fff" stroke="#222" stroke-width="0.9"/>
<rect x="251.26" y="720.39" width="4.6" height="4.6" fill="#fff" stroke="#222" stroke-width="0.9"/>
<rect x="260.66" y="710.52" width="4.6" height="4.6" fill="#fff" stroke="#222" stroke-width="0.9"/>
<rect x="274.77" y="710.52" width="4.6" height="4.6" fill="#fff" stroke="#222" stroke-width="0.9"/>
<rect x="298.28" y="723.91" width="4.6" height="4.6" fill="#fff" stroke="#222" stroke-width="0.9"/>
<rect x="321.79" y="763.78" width="4.6" height="4.6" fill="#fff" stroke="#222" stroke-width="0.9"/>
<path d="M41.96 816.7C45.88 816.6 57.63 816.53 65.47 816.08C73.31 815.63 81.14 816.7 88.98 813.98C96.82 811.27 104.66 804.6 112.49 799.79C120.33 794.97 129.73 789.24 136 785.1C142.27 780.95 146.19 776.64 150.11 774.91C154.03 773.18 155.09 776.33 159.51 774.73C163.94 773.13 175.19 767.96 183.02 763C190.86 758.04 198.7 748.58 206.54 744.97C214.37 741.37 222.21 743.36 230.05 741.39C237.88 739.43 248.96 734.24 253.56 733.19C258.15 732.13 259.04 733.75 262.96 733.86C266.88 733.98 270.8 732.13 277.07 733.86C283.34 735.6 292.74 739.13 300.58 744.3C308.42 749.46 320.17 761.42 324.09 764.85" stroke="#3a3a3a" stroke-width="0.95" fill="none" stroke-dasharray="2.6 2.2"/>
<rect x="39.46" y="814.2" width="5" height="5" fill="#111"/>
<rect x="62.97" y="813.58" width="5" height="5" fill="#111"/>
<rect x="86.48" y="811.48" width="5" height="5" fill="#111"/>
<rect x="109.99" y="797.29" width="5" height="5" fill="#111"/>
<rect x="133.5" y="782.6" width="5" height="5" fill="#111"/>
<rect x="147.61" y="772.41" width="5" height="5" fill="#111"/>
<rect x="157.01" y="772.23" width="5" height="5" fill="#111"/>
<rect x="180.52" y="760.5" width="5" height="5" fill="#111"/>
<rect x="204.04" y="742.47" width="5" height="5" fill="#111"/>
<rect x="227.55" y="738.89" width="5" height="5" fill="#111"/>
<rect x="251.06" y="730.69" width="5" height="5" fill="#111"/>
<rect x="260.46" y="731.36" width="5" height="5" fill="#111"/>
<rect x="274.57" y="731.36" width="5" height="5" fill="#111"/>
<rect x="298.08" y="741.8" width="5" height="5" fill="#111"/>
<rect x="321.59" y="762.35" width="5" height="5" fill="#111"/>
<path d="M41.96 816.08C45.88 815.05 57.63 811.62 65.47 809.91C73.31 808.2 81.14 808.25 88.98 805.84C96.82 803.42 104.66 798.86 112.49 795.4C120.33 791.95 129.73 788.54 136 785.1C142.27 781.65 146.19 777.48 150.11 774.73C154.03 771.97 154.36 770.8 159.51 768.55C164.67 766.31 175.19 762.75 183.02 760.41C190.86 758.06 198.7 757.22 206.54 754.48C214.37 751.74 222.21 746.28 230.05 743.99C237.88 741.69 248.47 740.62 253.56 740.72C258.64 740.81 259.04 743.96 262.96 744.6C266.88 745.25 270.8 742.99 277.07 744.6C283.34 746.22 292.74 749.08 300.58 754.3C308.42 759.51 320.17 772.3 324.09 775.9" stroke="#3a3a3a" stroke-width="0.95" fill="none"/>
<path d="M41.96 813.88L44.06 817.76L39.86 817.76Z" fill="#fff" stroke="#222" stroke-width="0.8"/>
<path d="M65.47 807.7L67.57 811.59L63.37 811.59Z" fill="#fff" stroke="#222" stroke-width="0.8"/>
<path d="M88.98 803.63L91.08 807.52L86.88 807.52Z" fill="#fff" stroke="#222" stroke-width="0.8"/>
<path d="M112.49 793.2L114.59 797.08L110.39 797.08Z" fill="#fff" stroke="#222" stroke-width="0.8"/>
<path d="M136 782.89L138.1 786.78L133.9 786.78Z" fill="#fff" stroke="#222" stroke-width="0.8"/>
<path d="M150.11 772.52L152.21 776.41L148.01 776.41Z" fill="#fff" stroke="#222" stroke-width="0.8"/>
<path d="M159.51 766.35L161.61 770.23L157.41 770.23Z" fill="#fff" stroke="#222" stroke-width="0.8"/>
<path d="M183.02 758.2L185.12 762.09L180.92 762.09Z" fill="#fff" stroke="#222" stroke-width="0.8"/>
<path d="M206.54 752.28L208.64 756.16L204.44 756.16Z" fill="#fff" stroke="#222" stroke-width="0.8"/>
<path d="M230.05 741.78L232.15 745.67L227.95 745.67Z" fill="#fff" stroke="#222" stroke-width="0.8"/>
<path d="M253.56 738.51L255.66 742.4L251.46 742.4Z" fill="#fff" stroke="#222" stroke-width="0.8"/>
<path d="M262.96 742.4L265.06 746.28L260.86 746.28Z" fill="#fff" stroke="#222" stroke-width="0.8"/>
<path d="M277.07 742.4L279.17 746.28L274.97 746.28Z" fill="#fff" stroke="#222" stroke-width="0.8"/>
<path d="M300.58 752.09L302.68 755.98L298.48 755.98Z" fill="#fff" stroke="#222" stroke-width="0.8"/>
<path d="M324.09 773.69L326.19 777.58L321.99 777.58Z" fill="#fff" stroke="#222" stroke-width="0.8"/>
<path d="M41.96 796.02C45.88 796.43 57.63 798.56 65.47 798.49C73.31 798.42 81.14 797.82 88.98 795.59C96.82 793.36 104.66 788.54 112.49 785.1C120.33 781.65 129.73 776.71 136 774.91C142.27 773.11 146.19 775.85 150.11 774.29C154.03 772.74 154.03 768.52 159.51 765.59C165 762.66 175.19 758.58 183.02 756.7C190.86 754.82 198.7 754.7 206.54 754.3C214.37 753.89 222.21 754.18 230.05 754.3C237.88 754.41 248.86 754.88 253.56 754.97C258.26 755.07 259.04 754.8 262.96 754.97C266.88 755.15 270.8 754.38 277.07 756.02C283.34 757.67 292.74 759.94 300.58 764.85C308.42 769.76 320.17 782.03 324.09 785.47" stroke="#3a3a3a" stroke-width="0.95" fill="none" stroke-dasharray="2.6 2.2"/>
<path d="M41.96 793.38L44.36 797.82L39.56 797.82Z" fill="#111"/>
<path d="M65.47 795.85L67.87 800.29L63.07 800.29Z" fill="#111"/>
<path d="M88.98 792.95L91.38 797.39L86.58 797.39Z" fill="#111"/>
<path d="M112.49 782.46L114.89 786.9L110.09 786.9Z" fill="#111"/>
<path d="M136 772.27L138.4 776.71L133.6 776.71Z" fill="#111"/>
<path d="M150.11 771.65L152.51 776.09L147.71 776.09Z" fill="#111"/>
<path d="M159.51 762.95L161.91 767.39L157.11 767.39Z" fill="#111"/>
<path d="M183.02 754.06L185.42 758.5L180.62 758.5Z" fill="#111"/>
<path d="M206.54 751.66L208.94 756.1L204.14 756.1Z" fill="#111"/>
<path d="M230.05 751.66L232.45 756.1L227.65 756.1Z" fill="#111"/>
<path d="M253.56 752.33L255.96 756.77L251.16 756.77Z" fill="#111"/>
<path d="M262.96 752.33L265.36 756.77L260.56 756.77Z" fill="#111"/>
<path d="M277.07 753.38L279.47 757.82L274.67 757.82Z" fill="#111"/>
<path d="M300.58 762.21L302.98 766.65L298.18 766.65Z" fill="#111"/>
<path d="M324.09 782.83L326.49 787.27L321.69 787.27Z" fill="#111"/>
<rect x="46.2" y="645.5" width="70.4" height="111.8" fill="#fff" stroke="#4a4a4a" stroke-width="1.1"/>
<path d="M50.7 655.1H67.4" stroke="#3a3a3a" stroke-width="1"/>
<circle cx="59.5" cy="655.1" r="2.3" fill="#fff" stroke="#222" stroke-width="0.9"/>
<text x="70.2" y="658.7" font-family="Liberation Serif" font-weight="bold" font-size="12.96" textLength="38.79" lengthAdjust="spacingAndGlyphs">z=5mm</text>
<path d="M50.7 673.55H67.4" stroke="#3a3a3a" stroke-width="1" stroke-dasharray="2.6 2.2"/>
<circle cx="59.5" cy="673.55" r="2.25" fill="#111"/>
<text x="70.2" y="677.15" font-family="Liberation Serif" font-weight="bold" font-size="12.96" textLength="45" lengthAdjust="spacingAndGlyphs">z=10mm</text>
<path d="M50.7 692H67.4" stroke="#3a3a3a" stroke-width="1"/>
<rect x="57.2" y="689.7" width="4.6" height="4.6" fill="#fff" stroke="#222" stroke-width="0.9"/>
<text x="70.2" y="695.6" font-family="Liberation Serif" font-weight="bold" font-size="12.96" textLength="45" lengthAdjust="spacingAndGlyphs">z=15mm</text>
<path d="M50.7 710.45H67.4" stroke="#3a3a3a" stroke-width="1" stroke-dasharray="2.6 2.2"/>
<rect x="57" y="707.95" width="5" height="5" fill="#111"/>
<text x="70.2" y="714.05" font-family="Liberation Serif" font-weight="bold" font-size="12.96" textLength="45" lengthAdjust="spacingAndGlyphs">z=20mm</text>
<path d="M50.7 728.9H67.4" stroke="#3a3a3a" stroke-width="1"/>
<path d="M59.5 726.69L61.6 730.58L57.4 730.58Z" fill="#fff" stroke="#222" stroke-width="0.8"/>
<text x="70.2" y="732.5" font-family="Liberation Serif" font-weight="bold" font-size="12.96" textLength="45" lengthAdjust="spacingAndGlyphs">z=25mm</text>
<path d="M50.7 747.35H67.4" stroke="#3a3a3a" stroke-width="1" stroke-dasharray="2.6 2.2"/>
<path d="M59.5 744.71L61.9 749.15L57.1 749.15Z" fill="#111"/>
<text x="70.2" y="750.95" font-family="Liberation Serif" font-weight="bold" font-size="12.96" textLength="45" lengthAdjust="spacingAndGlyphs">z=30mm</text>
<rect x="248.4" y="844.3" width="70.1" height="33.9" fill="#fff" stroke="#4a4a4a" stroke-width="1.1"/>
<text x="250.6" y="858.7" font-family="Liberation Serif" font-weight="bold" font-size="14.2" textLength="53.7" lengthAdjust="spacingAndGlyphs"><tspan font-style="italic" font-weight="normal">p</tspan> = 15 Pa</text>
<text x="250.6" y="873.7" font-family="Liberation Serif" font-weight="bold" font-size="14.2" textLength="65.8" lengthAdjust="spacingAndGlyphs"><tspan font-style="italic" font-weight="normal">P</tspan><tspan font-size="10.22" dy="3.55">RF</tspan><tspan dy="-3.55"> = 50 W</tspan></text>
<path d="M126.6 641.4V888.3M173.62 641.4V888.3M239.45 641.4V888.3M286.47 641.4V888.3" stroke="#4a4a4a" stroke-width="1.1" fill="none" stroke-dasharray="2.5 2.05"/>
<text x="31.2" y="644.9" font-family="Liberation Serif" font-weight="bold" font-size="12" text-anchor="end">4</text>
<text x="31.2" y="706.62" font-family="Liberation Serif" font-weight="bold" font-size="12" text-anchor="end">3</text>
<text x="31.2" y="768.35" font-family="Liberation Serif" font-weight="bold" font-size="12" text-anchor="end">2</text>
<text x="31.2" y="830.07" font-family="Liberation Serif" font-weight="bold" font-size="12" text-anchor="end">1</text>
<text x="31.2" y="891.8" font-family="Liberation Serif" font-weight="bold" font-size="12" text-anchor="end">0</text>
<text x="41.96" y="906.9" font-family="Liberation Serif" font-weight="bold" font-size="12" text-anchor="middle">0</text>
<text x="88.98" y="906.9" font-family="Liberation Serif" font-weight="bold" font-size="12" text-anchor="middle">10</text>
<text x="136" y="906.9" font-family="Liberation Serif" font-weight="bold" font-size="12" text-anchor="middle">20</text>
<text x="183.02" y="906.9" font-family="Liberation Serif" font-weight="bold" font-size="12" text-anchor="middle">30</text>
<text x="230.05" y="906.9" font-family="Liberation Serif" font-weight="bold" font-size="12" text-anchor="middle">40</text>
<text x="277.07" y="906.9" font-family="Liberation Serif" font-weight="bold" font-size="12" text-anchor="middle">50</text>
<text x="324.09" y="906.9" font-family="Liberation Serif" font-weight="bold" font-size="12" text-anchor="middle">60</text>
<text x="128.8" y="923.5" font-family="Liberation Serif" font-weight="bold" font-size="14" textLength="131.8" lengthAdjust="spacingAndGlyphs">Radial position <tspan font-style="italic">r</tspan> (mm)</text>
<text transform="translate(19.5 768) rotate(-90)" x="-90" y="0" font-family="Liberation Serif" font-weight="bold" font-size="17" textLength="180" lengthAdjust="spacingAndGlyphs">Ion flux <tspan font-style="italic">&#915;</tspan><tspan font-size="11.56" dy="3.74">i</tspan><tspan dy="-3.74"> (&#215; 10</tspan><tspan font-size="11.56" dy="-5.61">20</tspan><tspan dy="5.61"> m</tspan><tspan font-size="11.56" dy="-5.61">-2</tspan><tspan dy="5.61"> s</tspan><tspan font-size="11.56" dy="-5.61">-1</tspan><tspan dy="5.61">)</tspan></text>
<text x="190.6" y="944.3" font-family="Liberation Sans" font-size="12.5" text-anchor="middle">(e)</text>
</g>
<g>
<path d="M466.28 643.4V890.8M512.87 643.4V890.8M559.45 643.4V890.8M606.04 643.4V890.8M652.62 643.4V890.8M699.21 643.4V890.8M419.7 705.25H722.5M419.7 767.1H722.5M419.7 828.95H722.5" stroke="#4a4a4a" stroke-width="1.05" fill="none"/>
<path d="M424.36 890.8v-2.6M429.02 890.8v-2.6M433.68 890.8v-2.6M438.33 890.8v-2.6M442.99 890.8v-2.6M447.65 890.8v-2.6M452.31 890.8v-2.6M456.97 890.8v-2.6M461.63 890.8v-2.6M466.28 890.8v-2.6M470.94 890.8v-2.6M475.6 890.8v-2.6M480.26 890.8v-2.6M484.92 890.8v-2.6M489.58 890.8v-2.6M494.24 890.8v-2.6M498.89 890.8v-2.6M503.55 890.8v-2.6M508.21 890.8v-2.6M512.87 890.8v-2.6M517.53 890.8v-2.6M522.19 890.8v-2.6M526.84 890.8v-2.6M531.5 890.8v-2.6M536.16 890.8v-2.6M540.82 890.8v-2.6M545.48 890.8v-2.6M550.14 890.8v-2.6M554.8 890.8v-2.6M559.45 890.8v-2.6M564.11 890.8v-2.6M568.77 890.8v-2.6M573.43 890.8v-2.6M578.09 890.8v-2.6M582.75 890.8v-2.6M587.4 890.8v-2.6M592.06 890.8v-2.6M596.72 890.8v-2.6M601.38 890.8v-2.6M606.04 890.8v-2.6M610.7 890.8v-2.6M615.36 890.8v-2.6M620.01 890.8v-2.6M624.67 890.8v-2.6M629.33 890.8v-2.6M633.99 890.8v-2.6M638.65 890.8v-2.6M643.31 890.8v-2.6M647.96 890.8v-2.6M652.62 890.8v-2.6M657.28 890.8v-2.6M661.94 890.8v-2.6M666.6 890.8v-2.6M671.26 890.8v-2.6M675.92 890.8v-2.6M680.57 890.8v-2.6M685.23 890.8v-2.6M689.89 890.8v-2.6M694.55 890.8v-2.6M699.21 890.8v-2.6M703.87 890.8v-2.6M708.52 890.8v-2.6M713.18 890.8v-2.6M717.84 890.8v-2.6M419.7 859.88h2.4M419.7 828.95h2.4M419.7 798.02h2.4M419.7 767.1h2.4M419.7 736.17h2.4M419.7 705.25h2.4M419.7 674.32h2.4" stroke="#2e2e2e" stroke-width="1" fill="none"/>
<rect x="419.7" y="643.4" width="302.8" height="247.4" fill="none" stroke="#2e2e2e" stroke-width="1.25"/>
<path d="M419.7 880.41C423.58 880.22 435.23 880.14 442.99 879.3C450.76 878.45 458.52 878.27 466.28 875.34C474.05 872.41 481.81 868.24 489.58 861.73C497.34 855.23 506.66 842.58 512.87 836.31C519.08 830.04 522.96 827.33 526.84 824.13C530.73 820.92 530.73 815.34 536.16 817.07C541.6 818.81 551.69 829.65 559.45 834.52C567.22 839.38 574.98 846.21 582.75 846.27C590.51 846.33 600.16 846.44 606.04 834.89C611.92 823.34 623.9 776.49 629.33 754.73C634.77 732.97 634.79 716.05 638.65 704.32C642.51 692.6 648.11 672.49 652.62 683.97C657.14 695.46 668.47 772.86 675.92 799.2C683.36 825.54 695.33 840.49 699.21 848.74" stroke="#3a3a3a" stroke-width="0.95" fill="none"/>
<circle cx="419.7" cy="880.41" r="2.3" fill="#fff" stroke="#222" stroke-width="0.9"/>
<circle cx="442.99" cy="879.3" r="2.3" fill="#fff" stroke="#222" stroke-width="0.9"/>
<circle cx="466.28" cy="875.34" r="2.3" fill="#fff" stroke="#222" stroke-width="0.9"/>
<circle cx="489.58" cy="861.73" r="2.3" fill="#fff" stroke="#222" stroke-width="0.9"/>
<circle cx="512.87" cy="836.31" r="2.3" fill="#fff" stroke="#222" stroke-width="0.9"/>
<circle cx="526.84" cy="824.13" r="2.3" fill="#fff" stroke="#222" stroke-width="0.9"/>
<circle cx="536.16" cy="817.07" r="2.3" fill="#fff" stroke="#222" stroke-width="0.9"/>
<circle cx="559.45" cy="834.52" r="2.3" fill="#fff" stroke="#222" stroke-width="0.9"/>
<circle cx="582.75" cy="846.27" r="2.3" fill="#fff" stroke="#222" stroke-width="0.9"/>
<circle cx="606.04" cy="834.89" r="2.3" fill="#fff" stroke="#222" stroke-width="0.9"/>
<circle cx="629.33" cy="754.73" r="2.3" fill="#fff" stroke="#222" stroke-width="0.9"/>
<circle cx="638.65" cy="704.32" r="2.3" fill="#fff" stroke="#222" stroke-width="0.9"/>
<circle cx="652.62" cy="683.97" r="2.3" fill="#fff" stroke="#222" stroke-width="0.9"/>
<circle cx="675.92" cy="799.2" r="2.3" fill="#fff" stroke="#222" stroke-width="0.9"/>
<circle cx="699.21" cy="848.74" r="2.3" fill="#fff" stroke="#222" stroke-width="0.9"/>
<path d="M419.7 859.88C423.58 859.73 435.23 859.82 442.99 859.01C450.76 858.19 458.52 858.23 466.28 854.99C474.05 851.75 481.81 845.99 489.58 839.59C497.34 833.19 506.66 823.74 512.87 816.58C519.08 809.42 522.96 801.61 526.84 796.6C530.73 791.59 530.73 788.24 536.16 786.52C541.6 784.8 551.69 783.54 559.45 786.27C567.22 789.01 574.98 802.6 582.75 802.91C590.51 803.22 598.51 799.69 606.04 788.13C613.57 776.57 625.74 739.26 629.33 731.41C632.92 723.56 634.77 719.82 638.65 716.88C642.53 713.94 647 709.36 652.62 713.79C658.25 718.21 668.15 730.56 675.92 746.19C683.68 761.83 695.33 797.38 699.21 807.61" stroke="#3a3a3a" stroke-width="0.95" fill="none" stroke-dasharray="2.6 2.2"/>
<circle cx="419.7" cy="859.88" r="2.25" fill="#111"/>
<circle cx="442.99" cy="859.01" r="2.25" fill="#111"/>
<circle cx="466.28" cy="854.99" r="2.25" fill="#111"/>
<circle cx="489.58" cy="839.59" r="2.25" fill="#111"/>
<circle cx="512.87" cy="816.58" r="2.25" fill="#111"/>
<circle cx="526.84" cy="796.6" r="2.25" fill="#111"/>
<circle cx="536.16" cy="786.52" r="2.25" fill="#111"/>
<circle cx="559.45" cy="786.27" r="2.25" fill="#111"/>
<circle cx="582.75" cy="802.91" r="2.25" fill="#111"/>
<circle cx="606.04" cy="788.13" r="2.25" fill="#111"/>
<circle cx="629.33" cy="731.41" r="2.25" fill="#111"/>
<circle cx="638.65" cy="716.88" r="2.25" fill="#111"/>
<circle cx="652.62" cy="713.79" r="2.25" fill="#111"/>
<circle cx="675.92" cy="746.19" r="2.25" fill="#111"/>
<circle cx="699.21" cy="807.61" r="2.25" fill="#111"/>
<path d="M419.7 840.02C423.58 839.95 435.23 839.96 442.99 839.59C450.76 839.22 458.52 839.74 466.28 837.79C474.05 835.85 481.81 832.82 489.58 827.9C497.34 822.98 506.66 812.65 512.87 808.29C519.08 803.93 522.96 804.15 526.84 801.74C530.73 799.32 530.73 796.22 536.16 793.82C541.6 791.42 551.69 789.2 559.45 787.32C567.22 785.45 574.98 786.58 582.75 782.56C590.51 778.54 598.27 769.88 606.04 763.2C613.8 756.52 625.11 745.89 629.33 742.48C633.56 739.08 634.77 737.84 638.65 736.92C642.53 735.99 646.41 735.19 652.62 736.92C658.83 738.65 668.15 739.51 675.92 747.31C683.68 755.1 695.33 777.61 699.21 783.68" stroke="#3a3a3a" stroke-width="0.95" fill="none"/>
<rect x="417.4" y="837.72" width="4.6" height="4.6" fill="#fff" stroke="#222" stroke-width="0.9"/>
<rect x="440.69" y="837.29" width="4.6" height="4.6" fill="#fff" stroke="#222" stroke-width="0.9"/>
<rect x="463.98" y="835.49" width="4.6" height="4.6" fill="#fff" stroke="#222" stroke-width="0.9"/>
<rect x="487.28" y="825.6" width="4.6" height="4.6" fill="#fff" stroke="#222" stroke-width="0.9"/>
<rect x="510.57" y="805.99" width="4.6" height="4.6" fill="#fff" stroke="#222" stroke-width="0.9"/>
<rect x="524.54" y="799.44" width="4.6" height="4.6" fill="#fff" stroke="#222" stroke-width="0.9"/>
<rect x="533.86" y="791.52" width="4.6" height="4.6" fill="#fff" stroke="#222" stroke-width="0.9"/>
<rect x="557.15" y="785.02" width="4.6" height="4.6" fill="#fff" stroke="#222" stroke-width="0.9"/>
<rect x="580.45" y="780.26" width="4.6" height="4.6" fill="#fff" stroke="#222" stroke-width="0.9"/>
<rect x="603.74" y="760.9" width="4.6" height="4.6" fill="#fff" stroke="#222" stroke-width="0.9"/>
<rect x="627.03" y="740.18" width="4.6" height="4.6" fill="#fff" stroke="#222" stroke-width="0.9"/>
<rect x="636.35" y="734.62" width="4.6" height="4.6" fill="#fff" stroke="#222" stroke-width="0.9"/>
<rect x="650.32" y="734.62" width="4.6" height="4.6" fill="#fff" stroke="#222" stroke-width="0.9"/>
<rect x="673.62" y="745.01" width="4.6" height="4.6" fill="#fff" stroke="#222" stroke-width="0.9"/>
<rect x="696.91" y="781.38" width="4.6" height="4.6" fill="#fff" stroke="#222" stroke-width="0.9"/>
<path d="M419.7 837.79C423.58 837.55 435.23 837.66 442.99 836.31C450.76 834.96 458.52 832.41 466.28 829.69C474.05 826.97 481.81 823.55 489.58 819.98C497.34 816.42 506.66 811.62 512.87 808.29C519.08 804.96 522.96 801.85 526.84 800C530.73 798.16 531.98 799.7 536.16 797.22C540.35 794.74 551.69 783.88 559.45 780.71C567.22 777.53 574.98 779.99 582.75 778.17C590.51 776.36 598.27 773.42 606.04 769.82C613.8 766.22 625.01 758.34 629.33 756.59C633.65 754.83 634.77 756.59 638.65 756.59C642.53 756.59 646.41 754.73 652.62 756.59C658.83 758.44 668.15 763.85 675.92 767.72C683.68 771.58 695.33 777.77 699.21 779.78" stroke="#3a3a3a" stroke-width="0.95" fill="none" stroke-dasharray="2.6 2.2"/>
<rect x="417.2" y="835.29" width="5" height="5" fill="#111"/>
<rect x="440.49" y="833.81" width="5" height="5" fill="#111"/>
<rect x="463.78" y="827.19" width="5" height="5" fill="#111"/>
<rect x="487.08" y="817.48" width="5" height="5" fill="#111"/>
<rect x="510.37" y="805.79" width="5" height="5" fill="#111"/>
<rect x="524.34" y="797.5" width="5" height="5" fill="#111"/>
<rect x="533.66" y="794.72" width="5" height="5" fill="#111"/>
<rect x="556.95" y="778.21" width="5" height="5" fill="#111"/>
<rect x="580.25" y="775.67" width="5" height="5" fill="#111"/>
<rect x="603.54" y="767.32" width="5" height="5" fill="#111"/>
<rect x="626.83" y="754.09" width="5" height="5" fill="#111"/>
<rect x="636.15" y="754.09" width="5" height="5" fill="#111"/>
<rect x="650.12" y="754.09" width="5" height="5" fill="#111"/>
<rect x="673.42" y="765.22" width="5" height="5" fill="#111"/>
<rect x="696.71" y="777.28" width="5" height="5" fill="#111"/>
<path d="M419.7 835.2C423.58 835.11 435.23 836.16 442.99 834.7C450.76 833.25 458.52 829.19 466.28 826.48C474.05 823.76 481.81 821.12 489.58 818.44C497.34 815.76 506.66 813 512.87 810.39C519.08 807.79 522.96 804.75 526.84 802.79C530.73 800.83 531.29 800.13 536.16 798.64C541.04 797.15 551.69 795.5 559.45 792.83C567.22 790.16 574.98 785.24 582.75 782.62C590.51 780.01 598.27 778.59 606.04 777.12C613.8 775.65 624.7 774.25 629.33 773.78C633.96 773.31 634.77 773.52 638.65 773.78C642.53 774.04 646.41 773.96 652.62 775.33C658.83 776.7 668.15 778.87 675.92 782.01C683.68 785.14 695.33 792.11 699.21 794.13" stroke="#3a3a3a" stroke-width="0.95" fill="none"/>
<path d="M419.7 832.99L421.8 836.88L417.6 836.88Z" fill="#fff" stroke="#222" stroke-width="0.8"/>
<path d="M442.99 832.5L445.09 836.38L440.89 836.38Z" fill="#fff" stroke="#222" stroke-width="0.8"/>
<path d="M466.28 824.27L468.38 828.16L464.18 828.16Z" fill="#fff" stroke="#222" stroke-width="0.8"/>
<path d="M489.58 816.23L491.68 820.12L487.48 820.12Z" fill="#fff" stroke="#222" stroke-width="0.8"/>
<path d="M512.87 808.19L514.97 812.07L510.77 812.07Z" fill="#fff" stroke="#222" stroke-width="0.8"/>
<path d="M526.84 800.58L528.94 804.47L524.74 804.47Z" fill="#fff" stroke="#222" stroke-width="0.8"/>
<path d="M536.16 796.44L538.26 800.32L534.06 800.32Z" fill="#fff" stroke="#222" stroke-width="0.8"/>
<path d="M559.45 790.62L561.55 794.51L557.35 794.51Z" fill="#fff" stroke="#222" stroke-width="0.8"/>
<path d="M582.75 780.42L584.85 784.3L580.65 784.3Z" fill="#fff" stroke="#222" stroke-width="0.8"/>
<path d="M606.04 774.91L608.14 778.8L603.94 778.8Z" fill="#fff" stroke="#222" stroke-width="0.8"/>
<path d="M629.33 771.57L631.43 775.46L627.23 775.46Z" fill="#fff" stroke="#222" stroke-width="0.8"/>
<path d="M638.65 771.57L640.75 775.46L636.55 775.46Z" fill="#fff" stroke="#222" stroke-width="0.8"/>
<path d="M652.62 773.12L654.72 777.01L650.52 777.01Z" fill="#fff" stroke="#222" stroke-width="0.8"/>
<path d="M675.92 779.8L678.02 783.69L673.82 783.69Z" fill="#fff" stroke="#222" stroke-width="0.8"/>
<path d="M699.21 791.92L701.31 795.81L697.11 795.81Z" fill="#fff" stroke="#222" stroke-width="0.8"/>
<path d="M419.7 829.69C423.58 829.58 435.23 829.94 442.99 829.01C450.76 828.08 458.52 826.09 466.28 824.13C474.05 822.16 481.81 819.49 489.58 817.2C497.34 814.91 506.66 811.88 512.87 810.39C519.08 808.91 522.96 809.37 526.84 808.29C530.73 807.21 531.31 805.64 536.16 803.9C541.01 802.16 551.69 800.16 559.45 796.6C567.22 793.05 574.98 785.15 582.75 782.56C590.51 779.98 598.27 781.25 606.04 781.08C613.8 780.9 624.67 781.45 629.33 781.51C633.99 781.57 634.77 781.51 638.65 781.51C642.53 781.51 646.41 779.48 652.62 781.51C658.83 783.54 668.15 789.83 675.92 793.7C683.68 797.56 695.33 802.87 699.21 804.7" stroke="#3a3a3a" stroke-width="0.95" fill="none" stroke-dasharray="2.6 2.2"/>
<path d="M419.7 827.05L422.1 831.49L417.3 831.49Z" fill="#111"/>
<path d="M442.99 826.37L445.39 830.81L440.59 830.81Z" fill="#111"/>
<path d="M466.28 821.49L468.68 825.93L463.88 825.93Z" fill="#111"/>
<path d="M489.58 814.56L491.98 819L487.18 819Z" fill="#111"/>
<path d="M512.87 807.75L515.27 812.19L510.47 812.19Z" fill="#111"/>
<path d="M526.84 805.65L529.24 810.09L524.44 810.09Z" fill="#111"/>
<path d="M536.16 801.26L538.56 805.7L533.76 805.7Z" fill="#111"/>
<path d="M559.45 793.96L561.85 798.4L557.05 798.4Z" fill="#111"/>
<path d="M582.75 779.92L585.15 784.36L580.35 784.36Z" fill="#111"/>
<path d="M606.04 778.44L608.44 782.88L603.64 782.88Z" fill="#111"/>
<path d="M629.33 778.87L631.73 783.31L626.93 783.31Z" fill="#111"/>
<path d="M638.65 778.87L641.05 783.31L636.25 783.31Z" fill="#111"/>
<path d="M652.62 778.87L655.02 783.31L650.22 783.31Z" fill="#111"/>
<path d="M675.92 791.06L678.32 795.5L673.52 795.5Z" fill="#111"/>
<path d="M699.21 802.06L701.61 806.5L696.81 806.5Z" fill="#111"/>
<rect x="427.5" y="652.1" width="61.1" height="111.6" fill="#fff" stroke="#4a4a4a" stroke-width="1.1"/>
<path d="M432.6 661.7H446.3" stroke="#3a3a3a" stroke-width="1"/>
<circle cx="439.9" cy="661.7" r="2.3" fill="#fff" stroke="#222" stroke-width="0.9"/>
<text x="448.8" y="665.15" font-family="Liberation Serif" font-weight="bold" font-size="12.42" textLength="32.15" lengthAdjust="spacingAndGlyphs">z=5mm</text>
<path d="M432.6 680.22H446.3" stroke="#3a3a3a" stroke-width="1" stroke-dasharray="2.6 2.2"/>
<circle cx="439.9" cy="680.22" r="2.25" fill="#111"/>
<text x="448.8" y="683.67" font-family="Liberation Serif" font-weight="bold" font-size="12.42" textLength="37.3" lengthAdjust="spacingAndGlyphs">z=10mm</text>
<path d="M432.6 698.74H446.3" stroke="#3a3a3a" stroke-width="1"/>
<rect x="437.6" y="696.44" width="4.6" height="4.6" fill="#fff" stroke="#222" stroke-width="0.9"/>
<text x="448.8" y="702.19" font-family="Liberation Serif" font-weight="bold" font-size="12.42" textLength="37.3" lengthAdjust="spacingAndGlyphs">z=15mm</text>
<path d="M432.6 717.26H446.3" stroke="#3a3a3a" stroke-width="1" stroke-dasharray="2.6 2.2"/>
<rect x="437.4" y="714.76" width="5" height="5" fill="#111"/>
<text x="448.8" y="720.71" font-family="Liberation Serif" font-weight="bold" font-size="12.42" textLength="37.3" lengthAdjust="spacingAndGlyphs">z=20mm</text>
<path d="M432.6 735.78H446.3" stroke="#3a3a3a" stroke-width="1"/>
<path d="M439.9 733.58L442 737.46L437.8 737.46Z" fill="#fff" stroke="#222" stroke-width="0.8"/>
<text x="448.8" y="739.23" font-family="Liberation Serif" font-weight="bold" font-size="12.42" textLength="37.3" lengthAdjust="spacingAndGlyphs">z=25mm</text>
<path d="M432.6 754.3H446.3" stroke="#3a3a3a" stroke-width="1" stroke-dasharray="2.6 2.2"/>
<path d="M439.9 751.66L442.3 756.1L437.5 756.1Z" fill="#111"/>
<text x="448.8" y="757.75" font-family="Liberation Serif" font-weight="bold" font-size="12.42" textLength="37.3" lengthAdjust="spacingAndGlyphs">z=30mm</text>
<rect x="661.3" y="648.4" width="58.1" height="33.6" fill="#fff" stroke="#4a4a4a" stroke-width="1.1"/>
<text x="663.4" y="663.1" font-family="Liberation Serif" font-weight="bold" font-size="14" textLength="44.4" lengthAdjust="spacingAndGlyphs"><tspan font-style="italic" font-weight="normal">p</tspan> = 20 Pa</text>
<text x="663.4" y="678" font-family="Liberation Serif" font-weight="bold" font-size="14" textLength="54.9" lengthAdjust="spacingAndGlyphs"><tspan font-style="italic" font-weight="normal">P</tspan><tspan font-size="10.08" dy="3.5">RF</tspan><tspan dy="-3.5"> = 50 W</tspan></text>
<path d="M503.55 643.4V890.8M550.14 643.4V890.8M615.36 643.4V890.8M661.94 643.4V890.8" stroke="#4a4a4a" stroke-width="1.1" fill="none" stroke-dasharray="2.5 2.05"/>
<text x="412" y="647.6" font-family="Liberation Serif" font-weight="bold" font-size="12" text-anchor="end">4</text>
<text x="412" y="709.45" font-family="Liberation Serif" font-weight="bold" font-size="12" text-anchor="end">3</text>
<text x="412" y="771.3" font-family="Liberation Serif" font-weight="bold" font-size="12" text-anchor="end">2</text>
<text x="412" y="833.15" font-family="Liberation Serif" font-weight="bold" font-size="12" text-anchor="end">1</text>
<text x="412" y="895" font-family="Liberation Serif" font-weight="bold" font-size="12" text-anchor="end">0</text>
<text x="417.4" y="910.3" font-family="Liberation Serif" font-weight="bold" font-size="12.8" textLength="4.61" lengthAdjust="spacingAndGlyphs">0</text>
<text x="461.68" y="910.3" font-family="Liberation Serif" font-weight="bold" font-size="12.8" textLength="9.22" lengthAdjust="spacingAndGlyphs">10</text>
<text x="508.26" y="910.3" font-family="Liberation Serif" font-weight="bold" font-size="12.8" textLength="9.22" lengthAdjust="spacingAndGlyphs">20</text>
<text x="554.85" y="910.3" font-family="Liberation Serif" font-weight="bold" font-size="12.8" textLength="9.22" lengthAdjust="spacingAndGlyphs">30</text>
<text x="601.43" y="910.3" font-family="Liberation Serif" font-weight="bold" font-size="12.8" textLength="9.22" lengthAdjust="spacingAndGlyphs">40</text>
<text x="648.02" y="910.3" font-family="Liberation Serif" font-weight="bold" font-size="12.8" textLength="9.22" lengthAdjust="spacingAndGlyphs">50</text>
<text x="694.6" y="910.3" font-family="Liberation Serif" font-weight="bold" font-size="12.8" textLength="9.22" lengthAdjust="spacingAndGlyphs">60</text>
<text x="515.4" y="925.8" font-family="Liberation Serif" font-weight="bold" font-size="14.2" textLength="111.2" lengthAdjust="spacingAndGlyphs">Radial position <tspan font-style="italic">r</tspan> (mm)</text>
<text transform="translate(399.5 767.4) rotate(-90)" x="-72.2" y="0" font-family="Liberation Serif" font-weight="bold" font-size="13" textLength="144.4" lengthAdjust="spacingAndGlyphs">Ion flux <tspan font-style="italic">&#915;</tspan><tspan font-size="8.84" dy="2.86">i</tspan><tspan dy="-2.86"> (&#215; 10</tspan><tspan font-size="8.84" dy="-4.29">20</tspan><tspan dy="4.29"> m</tspan><tspan font-size="8.84" dy="-4.29">-2</tspan><tspan dy="4.29"> s</tspan><tspan font-size="8.84" dy="-4.29">-1</tspan><tspan dy="4.29">)</tspan></text>
<text x="559" y="944.5" font-family="Liberation Sans" font-size="12.5" text-anchor="middle">(f)</text>
</g>
</svg></body></html>
